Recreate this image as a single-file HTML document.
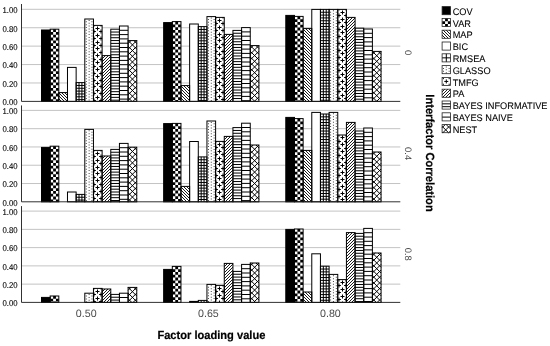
<!DOCTYPE html>
<html><head><meta charset="utf-8"><title>Chart</title>
<style>
html,body{margin:0;padding:0;background:#fff;}
body{width:550px;height:346px;overflow:hidden;}
svg{display:block;font-family:"Liberation Sans",sans-serif;text-rendering:geometricPrecision;}
</style></head><body>
<svg width="550" height="346" viewBox="0 0 550 346">
<rect width="550" height="346" fill="#fff"/>
<g stroke="#b4b4b4" stroke-width="0.8">
<line x1="21.5" y1="82.98" x2="400.3" y2="82.98"/>
<line x1="21.5" y1="64.56" x2="400.3" y2="64.56"/>
<line x1="21.5" y1="46.14" x2="400.3" y2="46.14"/>
<line x1="21.5" y1="27.72" x2="400.3" y2="27.72"/>
<line x1="21.5" y1="9.30" x2="400.3" y2="9.30"/>
<line x1="21.5" y1="183.52" x2="400.3" y2="183.52"/>
<line x1="21.5" y1="165.24" x2="400.3" y2="165.24"/>
<line x1="21.5" y1="146.96" x2="400.3" y2="146.96"/>
<line x1="21.5" y1="128.68" x2="400.3" y2="128.68"/>
<line x1="21.5" y1="110.40" x2="400.3" y2="110.40"/>
<line x1="21.5" y1="284.14" x2="400.3" y2="284.14"/>
<line x1="21.5" y1="265.88" x2="400.3" y2="265.88"/>
<line x1="21.5" y1="247.62" x2="400.3" y2="247.62"/>
<line x1="21.5" y1="229.36" x2="400.3" y2="229.36"/>
<line x1="21.5" y1="211.10" x2="400.3" y2="211.10"/>
</g>
<g fill="#fff">
<rect x="41.50" y="30.00" width="8.66" height="71.40"/>
<rect x="50.16" y="29.20" width="8.66" height="72.20"/>
<rect x="58.82" y="92.60" width="8.66" height="8.80"/>
<rect x="67.48" y="67.40" width="8.66" height="34.00"/>
<rect x="76.14" y="82.60" width="8.66" height="18.80"/>
<rect x="84.80" y="19.00" width="8.66" height="82.40"/>
<rect x="93.46" y="25.40" width="8.66" height="76.00"/>
<rect x="102.12" y="55.60" width="8.66" height="45.80"/>
<rect x="110.78" y="29.20" width="8.66" height="72.20"/>
<rect x="119.44" y="26.00" width="8.66" height="75.40"/>
<rect x="128.10" y="40.60" width="8.66" height="60.80"/>
<rect x="163.65" y="22.60" width="8.66" height="78.80"/>
<rect x="172.31" y="21.60" width="8.66" height="79.80"/>
<rect x="180.97" y="85.60" width="8.66" height="15.80"/>
<rect x="189.63" y="24.00" width="8.66" height="77.40"/>
<rect x="198.29" y="26.60" width="8.66" height="74.80"/>
<rect x="206.95" y="16.60" width="8.66" height="84.80"/>
<rect x="215.61" y="17.40" width="8.66" height="84.00"/>
<rect x="224.27" y="34.40" width="8.66" height="67.00"/>
<rect x="232.93" y="30.40" width="8.66" height="71.00"/>
<rect x="241.59" y="27.60" width="8.66" height="73.80"/>
<rect x="250.25" y="45.60" width="8.66" height="55.80"/>
<rect x="285.80" y="15.40" width="8.66" height="86.00"/>
<rect x="294.46" y="16.40" width="8.66" height="85.00"/>
<rect x="303.12" y="28.60" width="8.66" height="72.80"/>
<rect x="311.78" y="9.40" width="8.66" height="92.00"/>
<rect x="320.44" y="9.40" width="8.66" height="92.00"/>
<rect x="329.10" y="9.40" width="8.66" height="92.00"/>
<rect x="337.76" y="9.40" width="8.66" height="92.00"/>
<rect x="346.42" y="17.40" width="8.66" height="84.00"/>
<rect x="355.08" y="28.20" width="8.66" height="73.20"/>
<rect x="363.74" y="29.00" width="8.66" height="72.40"/>
<rect x="372.40" y="51.40" width="8.66" height="50.00"/>
<rect x="41.50" y="147.40" width="8.66" height="54.40"/>
<rect x="50.16" y="146.20" width="8.66" height="55.60"/>
<rect x="67.48" y="192.00" width="8.66" height="9.80"/>
<rect x="76.14" y="194.40" width="8.66" height="7.40"/>
<rect x="84.80" y="129.40" width="8.66" height="72.40"/>
<rect x="93.46" y="150.40" width="8.66" height="51.40"/>
<rect x="102.12" y="156.00" width="8.66" height="45.80"/>
<rect x="110.78" y="149.40" width="8.66" height="52.40"/>
<rect x="119.44" y="143.40" width="8.66" height="58.40"/>
<rect x="128.10" y="147.20" width="8.66" height="54.60"/>
<rect x="163.65" y="123.60" width="8.66" height="78.20"/>
<rect x="172.31" y="123.40" width="8.66" height="78.40"/>
<rect x="180.97" y="186.40" width="8.66" height="15.40"/>
<rect x="189.63" y="141.50" width="8.66" height="60.30"/>
<rect x="198.29" y="156.90" width="8.66" height="44.90"/>
<rect x="206.95" y="121.00" width="8.66" height="80.80"/>
<rect x="215.61" y="141.40" width="8.66" height="60.40"/>
<rect x="224.27" y="136.40" width="8.66" height="65.40"/>
<rect x="232.93" y="127.60" width="8.66" height="74.20"/>
<rect x="241.59" y="123.20" width="8.66" height="78.60"/>
<rect x="250.25" y="145.00" width="8.66" height="56.80"/>
<rect x="285.80" y="117.40" width="8.66" height="84.40"/>
<rect x="294.46" y="118.60" width="8.66" height="83.20"/>
<rect x="303.12" y="150.40" width="8.66" height="51.40"/>
<rect x="311.78" y="112.40" width="8.66" height="89.40"/>
<rect x="320.44" y="114.00" width="8.66" height="87.80"/>
<rect x="329.10" y="112.40" width="8.66" height="89.40"/>
<rect x="337.76" y="135.00" width="8.66" height="66.80"/>
<rect x="346.42" y="122.40" width="8.66" height="79.40"/>
<rect x="355.08" y="131.00" width="8.66" height="70.80"/>
<rect x="363.74" y="128.00" width="8.66" height="73.80"/>
<rect x="372.40" y="152.00" width="8.66" height="49.80"/>
<rect x="41.50" y="297.40" width="8.66" height="5.00"/>
<rect x="50.16" y="296.00" width="8.66" height="6.40"/>
<rect x="84.80" y="293.20" width="8.66" height="9.20"/>
<rect x="93.46" y="288.40" width="8.66" height="14.00"/>
<rect x="102.12" y="289.00" width="8.66" height="13.40"/>
<rect x="110.78" y="294.40" width="8.66" height="8.00"/>
<rect x="119.44" y="293.20" width="8.66" height="9.20"/>
<rect x="128.10" y="287.40" width="8.66" height="15.00"/>
<rect x="163.65" y="269.40" width="8.66" height="33.00"/>
<rect x="172.31" y="266.40" width="8.66" height="36.00"/>
<rect x="189.63" y="301.40" width="8.66" height="1.00"/>
<rect x="198.29" y="300.40" width="8.66" height="2.00"/>
<rect x="206.95" y="284.40" width="8.66" height="18.00"/>
<rect x="215.61" y="285.40" width="8.66" height="17.00"/>
<rect x="224.27" y="263.40" width="8.66" height="39.00"/>
<rect x="232.93" y="271.40" width="8.66" height="31.00"/>
<rect x="241.59" y="264.40" width="8.66" height="38.00"/>
<rect x="250.25" y="263.00" width="8.66" height="39.40"/>
<rect x="285.80" y="229.40" width="8.66" height="73.00"/>
<rect x="294.46" y="229.00" width="8.66" height="73.40"/>
<rect x="303.12" y="292.00" width="8.66" height="10.40"/>
<rect x="311.78" y="253.80" width="8.66" height="48.60"/>
<rect x="320.44" y="266.20" width="8.66" height="36.20"/>
<rect x="329.10" y="274.40" width="8.66" height="28.00"/>
<rect x="337.76" y="279.60" width="8.66" height="22.80"/>
<rect x="346.42" y="232.60" width="8.66" height="69.80"/>
<rect x="355.08" y="233.40" width="8.66" height="69.00"/>
<rect x="363.74" y="228.40" width="8.66" height="74.00"/>
<rect x="372.40" y="253.00" width="8.66" height="49.40"/>
</g>
<g stroke="#000" stroke-width="1.0" fill="none">
<rect stroke="none" x="41.5" y="30" width="8.66" height="71.4" fill="#000" stroke="none"/>
<path d="M53.14 29.2H55.94V32H53.14zM58.74 29.2H58.82V32H58.74zM50.34 32H53.14V34.8H50.34zM55.94 32H58.74V34.8H55.94zM53.14 34.8H55.94V37.6H53.14zM58.74 34.8H58.82V37.6H58.74zM50.34 37.6H53.14V40.4H50.34zM55.94 37.6H58.74V40.4H55.94zM53.14 40.4H55.94V43.2H53.14zM58.74 40.4H58.82V43.2H58.74zM50.34 43.2H53.14V46H50.34zM55.94 43.2H58.74V46H55.94zM53.14 46H55.94V48.8H53.14zM58.74 46H58.82V48.8H58.74zM50.34 48.8H53.14V51.6H50.34zM55.94 48.8H58.74V51.6H55.94zM53.14 51.6H55.94V54.4H53.14zM58.74 51.6H58.82V54.4H58.74zM50.34 54.4H53.14V57.2H50.34zM55.94 54.4H58.74V57.2H55.94zM53.14 57.2H55.94V60H53.14zM58.74 57.2H58.82V60H58.74zM50.34 60H53.14V62.8H50.34zM55.94 60H58.74V62.8H55.94zM53.14 62.8H55.94V65.6H53.14zM58.74 62.8H58.82V65.6H58.74zM50.34 65.6H53.14V68.4H50.34zM55.94 65.6H58.74V68.4H55.94zM53.14 68.4H55.94V71.2H53.14zM58.74 68.4H58.82V71.2H58.74zM50.34 71.2H53.14V74H50.34zM55.94 71.2H58.74V74H55.94zM53.14 74H55.94V76.8H53.14zM58.74 74H58.82V76.8H58.74zM50.34 76.8H53.14V79.6H50.34zM55.94 76.8H58.74V79.6H55.94zM53.14 79.6H55.94V82.4H53.14zM58.74 79.6H58.82V82.4H58.74zM50.34 82.4H53.14V85.2H50.34zM55.94 82.4H58.74V85.2H55.94zM53.14 85.2H55.94V88H53.14zM58.74 85.2H58.82V88H58.74zM50.34 88H53.14V90.8H50.34zM55.94 88H58.74V90.8H55.94zM53.14 90.8H55.94V93.6H53.14zM58.74 90.8H58.82V93.6H58.74zM50.34 93.6H53.14V96.4H50.34zM55.94 93.6H58.74V96.4H55.94zM53.14 96.4H55.94V99.2H53.14zM58.74 96.4H58.82V99.2H58.74zM50.34 99.2H53.14V101.4H50.34zM55.94 99.2H58.74V101.4H55.94z" fill="#000" stroke="none"/>
<path stroke-width="0.9" d="M58.82 98.82L61.4 101.4M58.82 95.82L64.4 101.4M58.82 92.82L67.4 101.4M61.6 92.6L67.48 98.48M64.6 92.6L67.48 95.48"/>
<path d="M79.03 82.6V101.4M81.91 82.6V101.4M76.14 85.44H84.8M76.14 88.28H84.8M76.14 91.12H84.8M76.14 93.96H84.8M76.14 96.8H84.8M76.14 99.64H84.8"/>
<path d="M88.63 19.92h1v1h-1zM85.79 21.34h1v1h-1zM91.47 21.34h1v1h-1zM88.63 22.76h1v1h-1zM85.79 24.18h1v1h-1zM91.47 24.18h1v1h-1zM88.63 25.6h1v1h-1zM85.79 27.02h1v1h-1zM91.47 27.02h1v1h-1zM88.63 28.44h1v1h-1zM85.79 29.86h1v1h-1zM91.47 29.86h1v1h-1zM88.63 31.28h1v1h-1zM85.79 32.7h1v1h-1zM91.47 32.7h1v1h-1zM88.63 34.12h1v1h-1zM85.79 35.54h1v1h-1zM91.47 35.54h1v1h-1zM88.63 36.96h1v1h-1zM85.79 38.38h1v1h-1zM91.47 38.38h1v1h-1zM88.63 39.8h1v1h-1zM85.79 41.22h1v1h-1zM91.47 41.22h1v1h-1zM88.63 42.64h1v1h-1zM85.79 44.06h1v1h-1zM91.47 44.06h1v1h-1zM88.63 45.48h1v1h-1zM85.79 46.9h1v1h-1zM91.47 46.9h1v1h-1zM88.63 48.32h1v1h-1zM85.79 49.74h1v1h-1zM91.47 49.74h1v1h-1zM88.63 51.16h1v1h-1zM85.79 52.58h1v1h-1zM91.47 52.58h1v1h-1zM88.63 54h1v1h-1zM85.79 55.42h1v1h-1zM91.47 55.42h1v1h-1zM88.63 56.84h1v1h-1zM85.79 58.26h1v1h-1zM91.47 58.26h1v1h-1zM88.63 59.68h1v1h-1zM85.79 61.1h1v1h-1zM91.47 61.1h1v1h-1zM88.63 62.52h1v1h-1zM85.79 63.94h1v1h-1zM91.47 63.94h1v1h-1zM88.63 65.36h1v1h-1zM85.79 66.78h1v1h-1zM91.47 66.78h1v1h-1zM88.63 68.2h1v1h-1zM85.79 69.62h1v1h-1zM91.47 69.62h1v1h-1zM88.63 71.04h1v1h-1zM85.79 72.46h1v1h-1zM91.47 72.46h1v1h-1zM88.63 73.88h1v1h-1zM85.79 75.3h1v1h-1zM91.47 75.3h1v1h-1zM88.63 76.72h1v1h-1zM85.79 78.14h1v1h-1zM91.47 78.14h1v1h-1zM88.63 79.56h1v1h-1zM85.79 80.98h1v1h-1zM91.47 80.98h1v1h-1zM88.63 82.4h1v1h-1zM85.79 83.82h1v1h-1zM91.47 83.82h1v1h-1zM88.63 85.24h1v1h-1zM85.79 86.66h1v1h-1zM91.47 86.66h1v1h-1zM88.63 88.08h1v1h-1zM85.79 89.5h1v1h-1zM91.47 89.5h1v1h-1zM88.63 90.92h1v1h-1zM85.79 92.34h1v1h-1zM91.47 92.34h1v1h-1zM88.63 93.76h1v1h-1zM85.79 95.18h1v1h-1zM91.47 95.18h1v1h-1zM88.63 96.6h1v1h-1zM85.79 98.02h1v1h-1zM91.47 98.02h1v1h-1zM88.63 99.44h1v1h-1z" fill="#444" stroke="none"/>
<path d="M94 25.4L94 26.5M101 25.4L101 26.5M95.5 28.5L99.5 28.5M97.5 26.5L97.5 30.5M93.46 31.5L95.9 31.5M94 29.5L94 33.5M99.1 31.5L102.12 31.5M101 29.5L101 33.5M95.5 35.5L99.5 35.5M97.5 33.5L97.5 37.5M93.46 38.5L95.9 38.5M94 36.5L94 40.5M99.1 38.5L102.12 38.5M101 36.5L101 40.5M95.5 42.5L99.5 42.5M97.5 40.5L97.5 44.5M93.46 45.5L95.9 45.5M94 43.5L94 47.5M99.1 45.5L102.12 45.5M101 43.5L101 47.5M95.5 48.5L99.5 48.5M97.5 46.5L97.5 50.5M93.46 52.5L95.9 52.5M94 50.5L94 54.5M99.1 52.5L102.12 52.5M101 50.5L101 54.5M95.5 55.5L99.5 55.5M97.5 53.5L97.5 57.5M93.46 59.5L95.9 59.5M94 57.5L94 61.5M99.1 59.5L102.12 59.5M101 57.5L101 61.5M95.5 62.5L99.5 62.5M97.5 60.5L97.5 64.5M93.46 66.5L95.9 66.5M94 64.5L94 68.5M99.1 66.5L102.12 66.5M101 64.5L101 68.5M95.5 69.5L99.5 69.5M97.5 67.5L97.5 71.5M93.46 73.5L95.9 73.5M94 71.5L94 75.5M99.1 73.5L102.12 73.5M101 71.5L101 75.5M95.5 76.5L99.5 76.5M97.5 74.5L97.5 78.5M93.46 80.5L95.9 80.5M94 78.5L94 82.5M99.1 80.5L102.12 80.5M101 78.5L101 82.5M95.5 83.5L99.5 83.5M97.5 81.5L97.5 85.5M93.46 86.5L95.9 86.5M94 84.5L94 88.5M99.1 86.5L102.12 86.5M101 84.5L101 88.5M95.5 90.5L99.5 90.5M97.5 88.5L97.5 92.5M93.46 93.5L95.9 93.5M94 91.5L94 95.5M99.1 93.5L102.12 93.5M101 91.5L101 95.5M95.5 97.5L99.5 97.5M97.5 95.5L97.5 99.5M93.46 100.5L95.9 100.5M94 98.5L94 101.4M99.1 100.5L102.12 100.5M101 98.5L101 101.4"/>
<path stroke-width="0.9" d="M102.4 55.6L102.12 55.88M105.4 55.6L102.12 58.88M108.4 55.6L102.12 61.88M110.78 56.22L102.12 64.88M110.78 59.22L102.12 67.88M110.78 62.22L102.12 70.88M110.78 65.22L102.12 73.88M110.78 68.22L102.12 76.88M110.78 71.22L102.12 79.88M110.78 74.22L102.12 82.88M110.78 77.22L102.12 85.88M110.78 80.22L102.12 88.88M110.78 83.22L102.12 91.88M110.78 86.22L102.12 94.88M110.78 89.22L102.12 97.88M110.78 92.22L102.12 100.88M110.78 95.22L104.6 101.4M110.78 98.22L107.6 101.4M110.78 101.22L110.6 101.4"/>
<path d="M110.78 32.04H119.44M110.78 34.88H119.44M110.78 37.72H119.44M110.78 40.56H119.44M110.78 43.4H119.44M110.78 46.24H119.44M110.78 49.08H119.44M110.78 51.92H119.44M110.78 54.76H119.44M110.78 57.6H119.44M110.78 60.44H119.44M110.78 63.28H119.44M110.78 66.12H119.44M110.78 68.96H119.44M110.78 71.8H119.44M110.78 74.64H119.44M110.78 77.48H119.44M110.78 80.32H119.44M110.78 83.16H119.44M110.78 86H119.44M110.78 88.84H119.44M110.78 91.68H119.44M110.78 94.52H119.44M110.78 97.36H119.44M110.78 100.2H119.44"/>
<path d="M119.44 30.3H128.1M119.44 34.6H128.1M119.44 38.9H128.1M119.44 43.2H128.1M119.44 47.5H128.1M119.44 51.8H128.1M119.44 56.1H128.1M119.44 60.4H128.1M119.44 64.7H128.1M119.44 69H128.1M119.44 73.3H128.1M119.44 77.6H128.1M119.44 81.9H128.1M119.44 86.2H128.1M119.44 90.5H128.1M119.44 94.8H128.1M119.44 99.1H128.1"/>
<path d="M133.86 40.6L136.76 43.5M128.1 43.51L131 40.6M128.16 40.6L136.76 49.2M128.1 49.21L136.71 40.6M128.1 46.24L136.76 54.9M128.1 54.91L136.76 46.25M128.1 51.94L136.76 60.6M128.1 60.61L136.76 51.95M128.1 57.64L136.76 66.3M128.1 66.31L136.76 57.65M128.1 63.34L136.76 72M128.1 72.01L136.76 63.35M128.1 69.04L136.76 77.7M128.1 77.71L136.76 69.05M128.1 74.74L136.76 83.4M128.1 83.41L136.76 74.75M128.1 80.44L136.76 89.1M128.1 89.11L136.76 80.45M128.1 86.14L136.76 94.8M128.1 94.81L136.76 86.15M128.1 91.84L136.76 100.5M128.1 100.51L136.76 91.85M128.1 97.54L131.96 101.4M132.91 101.4L136.76 97.55"/>
<rect stroke="none" x="163.65" y="22.6" width="8.66" height="78.8" fill="#000" stroke="none"/>
<path d="M175.29 21.6H178.09V24.4H175.29zM180.89 21.6H180.97V24.4H180.89zM172.49 24.4H175.29V27.2H172.49zM178.09 24.4H180.89V27.2H178.09zM175.29 27.2H178.09V30H175.29zM180.89 27.2H180.97V30H180.89zM172.49 30H175.29V32.8H172.49zM178.09 30H180.89V32.8H178.09zM175.29 32.8H178.09V35.6H175.29zM180.89 32.8H180.97V35.6H180.89zM172.49 35.6H175.29V38.4H172.49zM178.09 35.6H180.89V38.4H178.09zM175.29 38.4H178.09V41.2H175.29zM180.89 38.4H180.97V41.2H180.89zM172.49 41.2H175.29V44H172.49zM178.09 41.2H180.89V44H178.09zM175.29 44H178.09V46.8H175.29zM180.89 44H180.97V46.8H180.89zM172.49 46.8H175.29V49.6H172.49zM178.09 46.8H180.89V49.6H178.09zM175.29 49.6H178.09V52.4H175.29zM180.89 49.6H180.97V52.4H180.89zM172.49 52.4H175.29V55.2H172.49zM178.09 52.4H180.89V55.2H178.09zM175.29 55.2H178.09V58H175.29zM180.89 55.2H180.97V58H180.89zM172.49 58H175.29V60.8H172.49zM178.09 58H180.89V60.8H178.09zM175.29 60.8H178.09V63.6H175.29zM180.89 60.8H180.97V63.6H180.89zM172.49 63.6H175.29V66.4H172.49zM178.09 63.6H180.89V66.4H178.09zM175.29 66.4H178.09V69.2H175.29zM180.89 66.4H180.97V69.2H180.89zM172.49 69.2H175.29V72H172.49zM178.09 69.2H180.89V72H178.09zM175.29 72H178.09V74.8H175.29zM180.89 72H180.97V74.8H180.89zM172.49 74.8H175.29V77.6H172.49zM178.09 74.8H180.89V77.6H178.09zM175.29 77.6H178.09V80.4H175.29zM180.89 77.6H180.97V80.4H180.89zM172.49 80.4H175.29V83.2H172.49zM178.09 80.4H180.89V83.2H178.09zM175.29 83.2H178.09V86H175.29zM180.89 83.2H180.97V86H180.89zM172.49 86H175.29V88.8H172.49zM178.09 86H180.89V88.8H178.09zM175.29 88.8H178.09V91.6H175.29zM180.89 88.8H180.97V91.6H180.89zM172.49 91.6H175.29V94.4H172.49zM178.09 91.6H180.89V94.4H178.09zM175.29 94.4H178.09V97.2H175.29zM180.89 94.4H180.97V97.2H180.89zM172.49 97.2H175.29V100H172.49zM178.09 97.2H180.89V100H178.09zM175.29 100H178.09V101.4H175.29zM180.89 100H180.97V101.4H180.89z" fill="#000" stroke="none"/>
<path stroke-width="0.9" d="M180.97 100.97L181.4 101.4M180.97 97.97L184.4 101.4M180.97 94.97L187.4 101.4M180.97 91.97L189.63 100.63M180.97 88.97L189.63 97.63M180.97 85.97L189.63 94.63M183.6 85.6L189.63 91.63M186.6 85.6L189.63 88.63M189.6 85.6L189.63 85.63"/>
<path d="M201.18 26.6V101.4M204.06 26.6V101.4M198.29 29.44H206.95M198.29 32.28H206.95M198.29 35.12H206.95M198.29 37.96H206.95M198.29 40.8H206.95M198.29 43.64H206.95M198.29 46.48H206.95M198.29 49.32H206.95M198.29 52.16H206.95M198.29 55H206.95M198.29 57.84H206.95M198.29 60.68H206.95M198.29 63.52H206.95M198.29 66.36H206.95M198.29 69.2H206.95M198.29 72.04H206.95M198.29 74.88H206.95M198.29 77.72H206.95M198.29 80.56H206.95M198.29 83.4H206.95M198.29 86.24H206.95M198.29 89.08H206.95M198.29 91.92H206.95M198.29 94.76H206.95M198.29 97.6H206.95M198.29 100.44H206.95"/>
<path d="M210.78 17.52h1v1h-1zM207.94 18.94h1v1h-1zM213.62 18.94h1v1h-1zM210.78 20.36h1v1h-1zM207.94 21.78h1v1h-1zM213.62 21.78h1v1h-1zM210.78 23.2h1v1h-1zM207.94 24.62h1v1h-1zM213.62 24.62h1v1h-1zM210.78 26.04h1v1h-1zM207.94 27.46h1v1h-1zM213.62 27.46h1v1h-1zM210.78 28.88h1v1h-1zM207.94 30.3h1v1h-1zM213.62 30.3h1v1h-1zM210.78 31.72h1v1h-1zM207.94 33.14h1v1h-1zM213.62 33.14h1v1h-1zM210.78 34.56h1v1h-1zM207.94 35.98h1v1h-1zM213.62 35.98h1v1h-1zM210.78 37.4h1v1h-1zM207.94 38.82h1v1h-1zM213.62 38.82h1v1h-1zM210.78 40.24h1v1h-1zM207.94 41.66h1v1h-1zM213.62 41.66h1v1h-1zM210.78 43.08h1v1h-1zM207.94 44.5h1v1h-1zM213.62 44.5h1v1h-1zM210.78 45.92h1v1h-1zM207.94 47.34h1v1h-1zM213.62 47.34h1v1h-1zM210.78 48.76h1v1h-1zM207.94 50.18h1v1h-1zM213.62 50.18h1v1h-1zM210.78 51.6h1v1h-1zM207.94 53.02h1v1h-1zM213.62 53.02h1v1h-1zM210.78 54.44h1v1h-1zM207.94 55.86h1v1h-1zM213.62 55.86h1v1h-1zM210.78 57.28h1v1h-1zM207.94 58.7h1v1h-1zM213.62 58.7h1v1h-1zM210.78 60.12h1v1h-1zM207.94 61.54h1v1h-1zM213.62 61.54h1v1h-1zM210.78 62.96h1v1h-1zM207.94 64.38h1v1h-1zM213.62 64.38h1v1h-1zM210.78 65.8h1v1h-1zM207.94 67.22h1v1h-1zM213.62 67.22h1v1h-1zM210.78 68.64h1v1h-1zM207.94 70.06h1v1h-1zM213.62 70.06h1v1h-1zM210.78 71.48h1v1h-1zM207.94 72.9h1v1h-1zM213.62 72.9h1v1h-1zM210.78 74.32h1v1h-1zM207.94 75.74h1v1h-1zM213.62 75.74h1v1h-1zM210.78 77.16h1v1h-1zM207.94 78.58h1v1h-1zM213.62 78.58h1v1h-1zM210.78 80h1v1h-1zM207.94 81.42h1v1h-1zM213.62 81.42h1v1h-1zM210.78 82.84h1v1h-1zM207.94 84.26h1v1h-1zM213.62 84.26h1v1h-1zM210.78 85.68h1v1h-1zM207.94 87.1h1v1h-1zM213.62 87.1h1v1h-1zM210.78 88.52h1v1h-1zM207.94 89.94h1v1h-1zM213.62 89.94h1v1h-1zM210.78 91.36h1v1h-1zM207.94 92.78h1v1h-1zM213.62 92.78h1v1h-1zM210.78 94.2h1v1h-1zM207.94 95.62h1v1h-1zM213.62 95.62h1v1h-1zM210.78 97.04h1v1h-1zM207.94 98.46h1v1h-1zM213.62 98.46h1v1h-1zM210.78 99.88h1v1h-1z" fill="#444" stroke="none"/>
<path d="M216 17.4L216 18.5M223 17.4L223 18.5M217.5 20.5L221.5 20.5M219.5 18.5L219.5 22.5M215.61 23.5L217.9 23.5M216 21.5L216 25.5M221.1 23.5L224.27 23.5M223 21.5L223 25.5M217.5 27.5L221.5 27.5M219.5 25.5L219.5 29.5M215.61 30.5L217.9 30.5M216 28.5L216 32.5M221.1 30.5L224.27 30.5M223 28.5L223 32.5M217.5 34.5L221.5 34.5M219.5 32.5L219.5 36.5M215.61 37.5L217.9 37.5M216 35.5L216 39.5M221.1 37.5L224.27 37.5M223 35.5L223 39.5M217.5 40.5L221.5 40.5M219.5 38.5L219.5 42.5M215.61 44.5L217.9 44.5M216 42.5L216 46.5M221.1 44.5L224.27 44.5M223 42.5L223 46.5M217.5 47.5L221.5 47.5M219.5 45.5L219.5 49.5M215.61 51.5L217.9 51.5M216 49.5L216 53.5M221.1 51.5L224.27 51.5M223 49.5L223 53.5M217.5 54.5L221.5 54.5M219.5 52.5L219.5 56.5M215.61 58.5L217.9 58.5M216 56.5L216 60.5M221.1 58.5L224.27 58.5M223 56.5L223 60.5M217.5 61.5L221.5 61.5M219.5 59.5L219.5 63.5M215.61 65.5L217.9 65.5M216 63.5L216 67.5M221.1 65.5L224.27 65.5M223 63.5L223 67.5M217.5 68.5L221.5 68.5M219.5 66.5L219.5 70.5M215.61 72.5L217.9 72.5M216 70.5L216 74.5M221.1 72.5L224.27 72.5M223 70.5L223 74.5M217.5 75.5L221.5 75.5M219.5 73.5L219.5 77.5M215.61 78.5L217.9 78.5M216 76.5L216 80.5M221.1 78.5L224.27 78.5M223 76.5L223 80.5M217.5 82.5L221.5 82.5M219.5 80.5L219.5 84.5M215.61 85.5L217.9 85.5M216 83.5L216 87.5M221.1 85.5L224.27 85.5M223 83.5L223 87.5M217.5 89.5L221.5 89.5M219.5 87.5L219.5 91.5M215.61 92.5L217.9 92.5M216 90.5L216 94.5M221.1 92.5L224.27 92.5M223 90.5L223 94.5M217.5 96.5L221.5 96.5M219.5 94.5L219.5 98.5M215.61 99.5L217.9 99.5M216 97.5L216 101.4M221.1 99.5L224.27 99.5M223 97.5L223 101.4"/>
<path stroke-width="0.9" d="M224.6 34.4L224.27 34.73M227.6 34.4L224.27 37.73M230.6 34.4L224.27 40.73M232.93 35.07L224.27 43.73M232.93 38.07L224.27 46.73M232.93 41.07L224.27 49.73M232.93 44.07L224.27 52.73M232.93 47.07L224.27 55.73M232.93 50.07L224.27 58.73M232.93 53.07L224.27 61.73M232.93 56.07L224.27 64.73M232.93 59.07L224.27 67.73M232.93 62.07L224.27 70.73M232.93 65.07L224.27 73.73M232.93 68.07L224.27 76.73M232.93 71.07L224.27 79.73M232.93 74.07L224.27 82.73M232.93 77.07L224.27 85.73M232.93 80.07L224.27 88.73M232.93 83.07L224.27 91.73M232.93 86.07L224.27 94.73M232.93 89.07L224.27 97.73M232.93 92.07L224.27 100.73M232.93 95.07L226.6 101.4M232.93 98.07L229.6 101.4M232.93 101.07L232.6 101.4"/>
<path d="M232.93 33.24H241.59M232.93 36.08H241.59M232.93 38.92H241.59M232.93 41.76H241.59M232.93 44.6H241.59M232.93 47.44H241.59M232.93 50.28H241.59M232.93 53.12H241.59M232.93 55.96H241.59M232.93 58.8H241.59M232.93 61.64H241.59M232.93 64.48H241.59M232.93 67.32H241.59M232.93 70.16H241.59M232.93 73H241.59M232.93 75.84H241.59M232.93 78.68H241.59M232.93 81.52H241.59M232.93 84.36H241.59M232.93 87.2H241.59M232.93 90.04H241.59M232.93 92.88H241.59M232.93 95.72H241.59M232.93 98.56H241.59"/>
<path d="M241.59 31.9H250.25M241.59 36.2H250.25M241.59 40.5H250.25M241.59 44.8H250.25M241.59 49.1H250.25M241.59 53.4H250.25M241.59 57.7H250.25M241.59 62H250.25M241.59 66.3H250.25M241.59 70.6H250.25M241.59 74.9H250.25M241.59 79.2H250.25M241.59 83.5H250.25M241.59 87.8H250.25M241.59 92.1H250.25M241.59 96.4H250.25M241.59 100.7H250.25"/>
<path d="M256.01 45.6L258.91 48.5M250.25 48.51L253.16 45.6M250.31 45.6L258.91 54.2M250.25 54.21L258.86 45.6M250.25 51.24L258.91 59.91M250.25 59.91L258.91 51.25M250.25 56.94L258.91 65.6M250.25 65.61L258.91 56.95M250.25 62.64L258.91 71.3M250.25 71.31L258.91 62.64M250.25 68.34L258.91 77M250.25 77.01L258.91 68.34M250.25 74.04L258.91 82.7M250.25 82.71L258.91 74.05M250.25 79.74L258.91 88.41M250.25 88.41L258.91 79.75M250.25 85.44L258.91 94.11M250.25 94.11L258.91 85.45M250.25 91.14L258.91 99.8M250.25 99.81L258.91 91.14M250.25 96.84L254.81 101.4M254.36 101.4L258.91 96.85"/>
<rect stroke="none" x="285.8" y="15.4" width="8.66" height="86" fill="#000" stroke="none"/>
<path d="M297.44 16.4H300.24V19.2H297.44zM303.04 16.4H303.12V19.2H303.04zM294.64 19.2H297.44V22H294.64zM300.24 19.2H303.04V22H300.24zM297.44 22H300.24V24.8H297.44zM303.04 22H303.12V24.8H303.04zM294.64 24.8H297.44V27.6H294.64zM300.24 24.8H303.04V27.6H300.24zM297.44 27.6H300.24V30.4H297.44zM303.04 27.6H303.12V30.4H303.04zM294.64 30.4H297.44V33.2H294.64zM300.24 30.4H303.04V33.2H300.24zM297.44 33.2H300.24V36H297.44zM303.04 33.2H303.12V36H303.04zM294.64 36H297.44V38.8H294.64zM300.24 36H303.04V38.8H300.24zM297.44 38.8H300.24V41.6H297.44zM303.04 38.8H303.12V41.6H303.04zM294.64 41.6H297.44V44.4H294.64zM300.24 41.6H303.04V44.4H300.24zM297.44 44.4H300.24V47.2H297.44zM303.04 44.4H303.12V47.2H303.04zM294.64 47.2H297.44V50H294.64zM300.24 47.2H303.04V50H300.24zM297.44 50H300.24V52.8H297.44zM303.04 50H303.12V52.8H303.04zM294.64 52.8H297.44V55.6H294.64zM300.24 52.8H303.04V55.6H300.24zM297.44 55.6H300.24V58.4H297.44zM303.04 55.6H303.12V58.4H303.04zM294.64 58.4H297.44V61.2H294.64zM300.24 58.4H303.04V61.2H300.24zM297.44 61.2H300.24V64H297.44zM303.04 61.2H303.12V64H303.04zM294.64 64H297.44V66.8H294.64zM300.24 64H303.04V66.8H300.24zM297.44 66.8H300.24V69.6H297.44zM303.04 66.8H303.12V69.6H303.04zM294.64 69.6H297.44V72.4H294.64zM300.24 69.6H303.04V72.4H300.24zM297.44 72.4H300.24V75.2H297.44zM303.04 72.4H303.12V75.2H303.04zM294.64 75.2H297.44V78H294.64zM300.24 75.2H303.04V78H300.24zM297.44 78H300.24V80.8H297.44zM303.04 78H303.12V80.8H303.04zM294.64 80.8H297.44V83.6H294.64zM300.24 80.8H303.04V83.6H300.24zM297.44 83.6H300.24V86.4H297.44zM303.04 83.6H303.12V86.4H303.04zM294.64 86.4H297.44V89.2H294.64zM300.24 86.4H303.04V89.2H300.24zM297.44 89.2H300.24V92H297.44zM303.04 89.2H303.12V92H303.04zM294.64 92H297.44V94.8H294.64zM300.24 92H303.04V94.8H300.24zM297.44 94.8H300.24V97.6H297.44zM303.04 94.8H303.12V97.6H303.04zM294.64 97.6H297.44V100.4H294.64zM300.24 97.6H303.04V100.4H300.24zM297.44 100.4H300.24V101.4H297.44zM303.04 100.4H303.12V101.4H303.04z" fill="#000" stroke="none"/>
<path stroke-width="0.9" d="M303.12 101.12L303.4 101.4M303.12 98.12L306.4 101.4M303.12 95.12L309.4 101.4M303.12 92.12L311.78 100.78M303.12 89.12L311.78 97.78M303.12 86.12L311.78 94.78M303.12 83.12L311.78 91.78M303.12 80.12L311.78 88.78M303.12 77.12L311.78 85.78M303.12 74.12L311.78 82.78M303.12 71.12L311.78 79.78M303.12 68.12L311.78 76.78M303.12 65.12L311.78 73.78M303.12 62.12L311.78 70.78M303.12 59.12L311.78 67.78M303.12 56.12L311.78 64.78M303.12 53.12L311.78 61.78M303.12 50.12L311.78 58.78M303.12 47.12L311.78 55.78M303.12 44.12L311.78 52.78M303.12 41.12L311.78 49.78M303.12 38.12L311.78 46.78M303.12 35.12L311.78 43.78M303.12 32.12L311.78 40.78M303.12 29.12L311.78 37.78M305.6 28.6L311.78 34.78M308.6 28.6L311.78 31.78M311.6 28.6L311.78 28.78"/>
<path d="M323.33 9.4V101.4M326.21 9.4V101.4M320.44 12.24H329.1M320.44 15.08H329.1M320.44 17.92H329.1M320.44 20.76H329.1M320.44 23.6H329.1M320.44 26.44H329.1M320.44 29.28H329.1M320.44 32.12H329.1M320.44 34.96H329.1M320.44 37.8H329.1M320.44 40.64H329.1M320.44 43.48H329.1M320.44 46.32H329.1M320.44 49.16H329.1M320.44 52H329.1M320.44 54.84H329.1M320.44 57.68H329.1M320.44 60.52H329.1M320.44 63.36H329.1M320.44 66.2H329.1M320.44 69.04H329.1M320.44 71.88H329.1M320.44 74.72H329.1M320.44 77.56H329.1M320.44 80.4H329.1M320.44 83.24H329.1M320.44 86.08H329.1M320.44 88.92H329.1M320.44 91.76H329.1M320.44 94.6H329.1M320.44 97.44H329.1M320.44 100.28H329.1"/>
<path d="M332.93 10.32h1v1h-1zM330.09 11.74h1v1h-1zM335.77 11.74h1v1h-1zM332.93 13.16h1v1h-1zM330.09 14.58h1v1h-1zM335.77 14.58h1v1h-1zM332.93 16h1v1h-1zM330.09 17.42h1v1h-1zM335.77 17.42h1v1h-1zM332.93 18.84h1v1h-1zM330.09 20.26h1v1h-1zM335.77 20.26h1v1h-1zM332.93 21.68h1v1h-1zM330.09 23.1h1v1h-1zM335.77 23.1h1v1h-1zM332.93 24.52h1v1h-1zM330.09 25.94h1v1h-1zM335.77 25.94h1v1h-1zM332.93 27.36h1v1h-1zM330.09 28.78h1v1h-1zM335.77 28.78h1v1h-1zM332.93 30.2h1v1h-1zM330.09 31.62h1v1h-1zM335.77 31.62h1v1h-1zM332.93 33.04h1v1h-1zM330.09 34.46h1v1h-1zM335.77 34.46h1v1h-1zM332.93 35.88h1v1h-1zM330.09 37.3h1v1h-1zM335.77 37.3h1v1h-1zM332.93 38.72h1v1h-1zM330.09 40.14h1v1h-1zM335.77 40.14h1v1h-1zM332.93 41.56h1v1h-1zM330.09 42.98h1v1h-1zM335.77 42.98h1v1h-1zM332.93 44.4h1v1h-1zM330.09 45.82h1v1h-1zM335.77 45.82h1v1h-1zM332.93 47.24h1v1h-1zM330.09 48.66h1v1h-1zM335.77 48.66h1v1h-1zM332.93 50.08h1v1h-1zM330.09 51.5h1v1h-1zM335.77 51.5h1v1h-1zM332.93 52.92h1v1h-1zM330.09 54.34h1v1h-1zM335.77 54.34h1v1h-1zM332.93 55.76h1v1h-1zM330.09 57.18h1v1h-1zM335.77 57.18h1v1h-1zM332.93 58.6h1v1h-1zM330.09 60.02h1v1h-1zM335.77 60.02h1v1h-1zM332.93 61.44h1v1h-1zM330.09 62.86h1v1h-1zM335.77 62.86h1v1h-1zM332.93 64.28h1v1h-1zM330.09 65.7h1v1h-1zM335.77 65.7h1v1h-1zM332.93 67.12h1v1h-1zM330.09 68.54h1v1h-1zM335.77 68.54h1v1h-1zM332.93 69.96h1v1h-1zM330.09 71.38h1v1h-1zM335.77 71.38h1v1h-1zM332.93 72.8h1v1h-1zM330.09 74.22h1v1h-1zM335.77 74.22h1v1h-1zM332.93 75.64h1v1h-1zM330.09 77.06h1v1h-1zM335.77 77.06h1v1h-1zM332.93 78.48h1v1h-1zM330.09 79.9h1v1h-1zM335.77 79.9h1v1h-1zM332.93 81.32h1v1h-1zM330.09 82.74h1v1h-1zM335.77 82.74h1v1h-1zM332.93 84.16h1v1h-1zM330.09 85.58h1v1h-1zM335.77 85.58h1v1h-1zM332.93 87h1v1h-1zM330.09 88.42h1v1h-1zM335.77 88.42h1v1h-1zM332.93 89.84h1v1h-1zM330.09 91.26h1v1h-1zM335.77 91.26h1v1h-1zM332.93 92.68h1v1h-1zM330.09 94.1h1v1h-1zM335.77 94.1h1v1h-1zM332.93 95.52h1v1h-1zM330.09 96.94h1v1h-1zM335.77 96.94h1v1h-1zM332.93 98.36h1v1h-1zM330.09 99.78h1v1h-1zM335.77 99.78h1v1h-1z" fill="#444" stroke="none"/>
<path d="M339 9.4L339 10.5M346 9.4L346 10.5M340.5 12.5L344.5 12.5M342.5 10.5L342.5 14.5M337.76 15.5L340.9 15.5M339 13.5L339 17.5M344.1 15.5L346.42 15.5M346 13.5L346 17.5M340.5 19.5L344.5 19.5M342.5 17.5L342.5 21.5M337.76 22.5L340.9 22.5M339 20.5L339 24.5M344.1 22.5L346.42 22.5M346 20.5L346 24.5M340.5 26.5L344.5 26.5M342.5 24.5L342.5 28.5M337.76 29.5L340.9 29.5M339 27.5L339 31.5M344.1 29.5L346.42 29.5M346 27.5L346 31.5M340.5 32.5L344.5 32.5M342.5 30.5L342.5 34.5M337.76 36.5L340.9 36.5M339 34.5L339 38.5M344.1 36.5L346.42 36.5M346 34.5L346 38.5M340.5 39.5L344.5 39.5M342.5 37.5L342.5 41.5M337.76 43.5L340.9 43.5M339 41.5L339 45.5M344.1 43.5L346.42 43.5M346 41.5L346 45.5M340.5 46.5L344.5 46.5M342.5 44.5L342.5 48.5M337.76 50.5L340.9 50.5M339 48.5L339 52.5M344.1 50.5L346.42 50.5M346 48.5L346 52.5M340.5 53.5L344.5 53.5M342.5 51.5L342.5 55.5M337.76 57.5L340.9 57.5M339 55.5L339 59.5M344.1 57.5L346.42 57.5M346 55.5L346 59.5M340.5 60.5L344.5 60.5M342.5 58.5L342.5 62.5M337.76 64.5L340.9 64.5M339 62.5L339 66.5M344.1 64.5L346.42 64.5M346 62.5L346 66.5M340.5 67.5L344.5 67.5M342.5 65.5L342.5 69.5M337.76 70.5L340.9 70.5M339 68.5L339 72.5M344.1 70.5L346.42 70.5M346 68.5L346 72.5M340.5 74.5L344.5 74.5M342.5 72.5L342.5 76.5M337.76 77.5L340.9 77.5M339 75.5L339 79.5M344.1 77.5L346.42 77.5M346 75.5L346 79.5M340.5 81.5L344.5 81.5M342.5 79.5L342.5 83.5M337.76 84.5L340.9 84.5M339 82.5L339 86.5M344.1 84.5L346.42 84.5M346 82.5L346 86.5M340.5 88.5L344.5 88.5M342.5 86.5L342.5 90.5M337.76 91.5L340.9 91.5M339 89.5L339 93.5M344.1 91.5L346.42 91.5M346 89.5L346 93.5M340.5 95.5L344.5 95.5M342.5 93.5L342.5 97.5M337.76 98.5L340.9 98.5M339 96.5L339 100.5M344.1 98.5L346.42 98.5M346 96.5L346 100.5M342.5 99.5L342.5 101.4"/>
<path stroke-width="0.9" d="M346.6 17.4L346.42 17.58M349.6 17.4L346.42 20.58M352.6 17.4L346.42 23.58M355.08 17.92L346.42 26.58M355.08 20.92L346.42 29.58M355.08 23.92L346.42 32.58M355.08 26.92L346.42 35.58M355.08 29.92L346.42 38.58M355.08 32.92L346.42 41.58M355.08 35.92L346.42 44.58M355.08 38.92L346.42 47.58M355.08 41.92L346.42 50.58M355.08 44.92L346.42 53.58M355.08 47.92L346.42 56.58M355.08 50.92L346.42 59.58M355.08 53.92L346.42 62.58M355.08 56.92L346.42 65.58M355.08 59.92L346.42 68.58M355.08 62.92L346.42 71.58M355.08 65.92L346.42 74.58M355.08 68.92L346.42 77.58M355.08 71.92L346.42 80.58M355.08 74.92L346.42 83.58M355.08 77.92L346.42 86.58M355.08 80.92L346.42 89.58M355.08 83.92L346.42 92.58M355.08 86.92L346.42 95.58M355.08 89.92L346.42 98.58M355.08 92.92L346.6 101.4M355.08 95.92L349.6 101.4M355.08 98.92L352.6 101.4"/>
<path d="M355.08 31.04H363.74M355.08 33.88H363.74M355.08 36.72H363.74M355.08 39.56H363.74M355.08 42.4H363.74M355.08 45.24H363.74M355.08 48.08H363.74M355.08 50.92H363.74M355.08 53.76H363.74M355.08 56.6H363.74M355.08 59.44H363.74M355.08 62.28H363.74M355.08 65.12H363.74M355.08 67.96H363.74M355.08 70.8H363.74M355.08 73.64H363.74M355.08 76.48H363.74M355.08 79.32H363.74M355.08 82.16H363.74M355.08 85H363.74M355.08 87.84H363.74M355.08 90.68H363.74M355.08 93.52H363.74M355.08 96.36H363.74M355.08 99.2H363.74"/>
<path d="M363.74 33.3H372.4M363.74 37.6H372.4M363.74 41.9H372.4M363.74 46.2H372.4M363.74 50.5H372.4M363.74 54.8H372.4M363.74 59.1H372.4M363.74 63.4H372.4M363.74 67.7H372.4M363.74 72H372.4M363.74 76.3H372.4M363.74 80.6H372.4M363.74 84.9H372.4M363.74 89.2H372.4M363.74 93.5H372.4M363.74 97.8H372.4"/>
<path d="M378.15 51.4L381.06 54.31M372.4 54.3L375.3 51.4M372.45 51.4L381.06 60.01M372.4 60L381 51.4M372.4 57.05L381.06 65.71M372.4 65.7L381.06 57.04M372.4 62.75L381.06 71.41M372.4 71.4L381.06 62.74M372.4 68.45L381.06 77.11M372.4 77.1L381.06 68.44M372.4 74.15L381.06 82.81M372.4 82.8L381.06 74.14M372.4 79.85L381.06 88.51M372.4 88.5L381.06 79.84M372.4 85.55L381.06 94.21M372.4 94.2L381.06 85.54M372.4 91.25L381.06 99.91M372.4 99.9L381.06 91.24M372.4 96.95L376.85 101.4M376.6 101.4L381.06 96.94"/>
<rect stroke="none" x="41.5" y="147.4" width="8.66" height="54.4" fill="#000" stroke="none"/>
<path d="M53.14 146.2H55.94V149H53.14zM58.74 146.2H58.82V149H58.74zM50.34 149H53.14V151.8H50.34zM55.94 149H58.74V151.8H55.94zM53.14 151.8H55.94V154.6H53.14zM58.74 151.8H58.82V154.6H58.74zM50.34 154.6H53.14V157.4H50.34zM55.94 154.6H58.74V157.4H55.94zM53.14 157.4H55.94V160.2H53.14zM58.74 157.4H58.82V160.2H58.74zM50.34 160.2H53.14V163H50.34zM55.94 160.2H58.74V163H55.94zM53.14 163H55.94V165.8H53.14zM58.74 163H58.82V165.8H58.74zM50.34 165.8H53.14V168.6H50.34zM55.94 165.8H58.74V168.6H55.94zM53.14 168.6H55.94V171.4H53.14zM58.74 168.6H58.82V171.4H58.74zM50.34 171.4H53.14V174.2H50.34zM55.94 171.4H58.74V174.2H55.94zM53.14 174.2H55.94V177H53.14zM58.74 174.2H58.82V177H58.74zM50.34 177H53.14V179.8H50.34zM55.94 177H58.74V179.8H55.94zM53.14 179.8H55.94V182.6H53.14zM58.74 179.8H58.82V182.6H58.74zM50.34 182.6H53.14V185.4H50.34zM55.94 182.6H58.74V185.4H55.94zM53.14 185.4H55.94V188.2H53.14zM58.74 185.4H58.82V188.2H58.74zM50.34 188.2H53.14V191H50.34zM55.94 188.2H58.74V191H55.94zM53.14 191H55.94V193.8H53.14zM58.74 191H58.82V193.8H58.74zM50.34 193.8H53.14V196.6H50.34zM55.94 193.8H58.74V196.6H55.94zM53.14 196.6H55.94V199.4H53.14zM58.74 196.6H58.82V199.4H58.74zM50.34 199.4H53.14V201.8H50.34zM55.94 199.4H58.74V201.8H55.94z" fill="#000" stroke="none"/>
<path d="M79.03 194.4V201.8M81.91 194.4V201.8M76.14 197.24H84.8M76.14 200.08H84.8"/>
<path d="M88.63 130.32h1v1h-1zM85.79 131.74h1v1h-1zM91.47 131.74h1v1h-1zM88.63 133.16h1v1h-1zM85.79 134.58h1v1h-1zM91.47 134.58h1v1h-1zM88.63 136h1v1h-1zM85.79 137.42h1v1h-1zM91.47 137.42h1v1h-1zM88.63 138.84h1v1h-1zM85.79 140.26h1v1h-1zM91.47 140.26h1v1h-1zM88.63 141.68h1v1h-1zM85.79 143.1h1v1h-1zM91.47 143.1h1v1h-1zM88.63 144.52h1v1h-1zM85.79 145.94h1v1h-1zM91.47 145.94h1v1h-1zM88.63 147.36h1v1h-1zM85.79 148.78h1v1h-1zM91.47 148.78h1v1h-1zM88.63 150.2h1v1h-1zM85.79 151.62h1v1h-1zM91.47 151.62h1v1h-1zM88.63 153.04h1v1h-1zM85.79 154.46h1v1h-1zM91.47 154.46h1v1h-1zM88.63 155.88h1v1h-1zM85.79 157.3h1v1h-1zM91.47 157.3h1v1h-1zM88.63 158.72h1v1h-1zM85.79 160.14h1v1h-1zM91.47 160.14h1v1h-1zM88.63 161.56h1v1h-1zM85.79 162.98h1v1h-1zM91.47 162.98h1v1h-1zM88.63 164.4h1v1h-1zM85.79 165.82h1v1h-1zM91.47 165.82h1v1h-1zM88.63 167.24h1v1h-1zM85.79 168.66h1v1h-1zM91.47 168.66h1v1h-1zM88.63 170.08h1v1h-1zM85.79 171.5h1v1h-1zM91.47 171.5h1v1h-1zM88.63 172.92h1v1h-1zM85.79 174.34h1v1h-1zM91.47 174.34h1v1h-1zM88.63 175.76h1v1h-1zM85.79 177.18h1v1h-1zM91.47 177.18h1v1h-1zM88.63 178.6h1v1h-1zM85.79 180.02h1v1h-1zM91.47 180.02h1v1h-1zM88.63 181.44h1v1h-1zM85.79 182.86h1v1h-1zM91.47 182.86h1v1h-1zM88.63 184.28h1v1h-1zM85.79 185.7h1v1h-1zM91.47 185.7h1v1h-1zM88.63 187.12h1v1h-1zM85.79 188.54h1v1h-1zM91.47 188.54h1v1h-1zM88.63 189.96h1v1h-1zM85.79 191.38h1v1h-1zM91.47 191.38h1v1h-1zM88.63 192.8h1v1h-1zM85.79 194.22h1v1h-1zM91.47 194.22h1v1h-1zM88.63 195.64h1v1h-1zM85.79 197.06h1v1h-1zM91.47 197.06h1v1h-1zM88.63 198.48h1v1h-1zM85.79 199.9h1v1h-1zM91.47 199.9h1v1h-1z" fill="#444" stroke="none"/>
<path d="M94 150.4L94 151.5M101 150.4L101 151.5M95.5 153.5L99.5 153.5M97.5 151.5L97.5 155.5M93.46 156.5L95.9 156.5M94 154.5L94 158.5M99.1 156.5L102.12 156.5M101 154.5L101 158.5M95.5 160.5L99.5 160.5M97.5 158.5L97.5 162.5M93.46 163.5L95.9 163.5M94 161.5L94 165.5M99.1 163.5L102.12 163.5M101 161.5L101 165.5M95.5 167.5L99.5 167.5M97.5 165.5L97.5 169.5M93.46 170.5L95.9 170.5M94 168.5L94 172.5M99.1 170.5L102.12 170.5M101 168.5L101 172.5M95.5 173.5L99.5 173.5M97.5 171.5L97.5 175.5M93.46 177.5L95.9 177.5M94 175.5L94 179.5M99.1 177.5L102.12 177.5M101 175.5L101 179.5M95.5 180.5L99.5 180.5M97.5 178.5L97.5 182.5M93.46 184.5L95.9 184.5M94 182.5L94 186.5M99.1 184.5L102.12 184.5M101 182.5L101 186.5M95.5 187.5L99.5 187.5M97.5 185.5L97.5 189.5M93.46 191.5L95.9 191.5M94 189.5L94 193.5M99.1 191.5L102.12 191.5M101 189.5L101 193.5M95.5 194.5L99.5 194.5M97.5 192.5L97.5 196.5M93.46 198.5L95.9 198.5M94 196.5L94 200.5M99.1 198.5L102.12 198.5M101 196.5L101 200.5M95.5 201.5L99.5 201.5M97.5 199.5L97.5 201.8"/>
<path stroke-width="0.9" d="M105 156L102.12 158.88M108 156L102.12 161.88M110.78 156.22L102.12 164.88M110.78 159.22L102.12 167.88M110.78 162.22L102.12 170.88M110.78 165.22L102.12 173.88M110.78 168.22L102.12 176.88M110.78 171.22L102.12 179.88M110.78 174.22L102.12 182.88M110.78 177.22L102.12 185.88M110.78 180.22L102.12 188.88M110.78 183.22L102.12 191.88M110.78 186.22L102.12 194.88M110.78 189.22L102.12 197.88M110.78 192.22L102.12 200.88M110.78 195.22L104.2 201.8M110.78 198.22L107.2 201.8M110.78 201.22L110.2 201.8"/>
<path d="M110.78 152.24H119.44M110.78 155.08H119.44M110.78 157.92H119.44M110.78 160.76H119.44M110.78 163.6H119.44M110.78 166.44H119.44M110.78 169.28H119.44M110.78 172.12H119.44M110.78 174.96H119.44M110.78 177.8H119.44M110.78 180.64H119.44M110.78 183.48H119.44M110.78 186.32H119.44M110.78 189.16H119.44M110.78 192H119.44M110.78 194.84H119.44M110.78 197.68H119.44M110.78 200.52H119.44"/>
<path d="M119.44 147.7H128.1M119.44 152H128.1M119.44 156.3H128.1M119.44 160.6H128.1M119.44 164.9H128.1M119.44 169.2H128.1M119.44 173.5H128.1M119.44 177.8H128.1M119.44 182.1H128.1M119.44 186.4H128.1M119.44 190.7H128.1M119.44 195H128.1M119.44 199.3H128.1"/>
<path d="M133.85 147.2L136.76 150.1M128.1 150.11L131.01 147.2M128.16 147.2L136.76 155.8M128.1 155.81L136.71 147.2M128.1 152.84L136.76 161.5M128.1 161.5L136.76 152.84M128.1 158.54L136.76 167.2M128.1 167.21L136.76 158.55M128.1 164.24L136.76 172.9M128.1 172.91L136.76 164.25M128.1 169.94L136.76 178.6M128.1 178.61L136.76 169.95M128.1 175.64L136.76 184.3M128.1 184.31L136.76 175.65M128.1 181.34L136.76 190M128.1 190.01L136.76 181.35M128.1 187.04L136.76 195.7M128.1 195.71L136.76 187.05M128.1 192.74L136.76 201.4M128.1 201.41L136.76 192.75M128.1 198.44L131.46 201.8M133.41 201.8L136.76 198.45"/>
<rect stroke="none" x="163.65" y="123.6" width="8.66" height="78.2" fill="#000" stroke="none"/>
<path d="M175.29 123.4H178.09V126.2H175.29zM180.89 123.4H180.97V126.2H180.89zM172.49 126.2H175.29V129H172.49zM178.09 126.2H180.89V129H178.09zM175.29 129H178.09V131.8H175.29zM180.89 129H180.97V131.8H180.89zM172.49 131.8H175.29V134.6H172.49zM178.09 131.8H180.89V134.6H178.09zM175.29 134.6H178.09V137.4H175.29zM180.89 134.6H180.97V137.4H180.89zM172.49 137.4H175.29V140.2H172.49zM178.09 137.4H180.89V140.2H178.09zM175.29 140.2H178.09V143H175.29zM180.89 140.2H180.97V143H180.89zM172.49 143H175.29V145.8H172.49zM178.09 143H180.89V145.8H178.09zM175.29 145.8H178.09V148.6H175.29zM180.89 145.8H180.97V148.6H180.89zM172.49 148.6H175.29V151.4H172.49zM178.09 148.6H180.89V151.4H178.09zM175.29 151.4H178.09V154.2H175.29zM180.89 151.4H180.97V154.2H180.89zM172.49 154.2H175.29V157H172.49zM178.09 154.2H180.89V157H178.09zM175.29 157H178.09V159.8H175.29zM180.89 157H180.97V159.8H180.89zM172.49 159.8H175.29V162.6H172.49zM178.09 159.8H180.89V162.6H178.09zM175.29 162.6H178.09V165.4H175.29zM180.89 162.6H180.97V165.4H180.89zM172.49 165.4H175.29V168.2H172.49zM178.09 165.4H180.89V168.2H178.09zM175.29 168.2H178.09V171H175.29zM180.89 168.2H180.97V171H180.89zM172.49 171H175.29V173.8H172.49zM178.09 171H180.89V173.8H178.09zM175.29 173.8H178.09V176.6H175.29zM180.89 173.8H180.97V176.6H180.89zM172.49 176.6H175.29V179.4H172.49zM178.09 176.6H180.89V179.4H178.09zM175.29 179.4H178.09V182.2H175.29zM180.89 179.4H180.97V182.2H180.89zM172.49 182.2H175.29V185H172.49zM178.09 182.2H180.89V185H178.09zM175.29 185H178.09V187.8H175.29zM180.89 185H180.97V187.8H180.89zM172.49 187.8H175.29V190.6H172.49zM178.09 187.8H180.89V190.6H178.09zM175.29 190.6H178.09V193.4H175.29zM180.89 190.6H180.97V193.4H180.89zM172.49 193.4H175.29V196.2H172.49zM178.09 193.4H180.89V196.2H178.09zM175.29 196.2H178.09V199H175.29zM180.89 196.2H180.97V199H180.89zM172.49 199H175.29V201.8H172.49zM178.09 199H180.89V201.8H178.09z" fill="#000" stroke="none"/>
<path stroke-width="0.9" d="M180.97 198.97L183.8 201.8M180.97 195.97L186.8 201.8M180.97 192.97L189.63 201.63M180.97 189.97L189.63 198.63M180.97 186.97L189.63 195.63M183.4 186.4L189.63 192.63M186.4 186.4L189.63 189.63M189.4 186.4L189.63 186.63"/>
<path d="M201.18 156.9V201.8M204.06 156.9V201.8M198.29 159.74H206.95M198.29 162.58H206.95M198.29 165.42H206.95M198.29 168.26H206.95M198.29 171.1H206.95M198.29 173.94H206.95M198.29 176.78H206.95M198.29 179.62H206.95M198.29 182.46H206.95M198.29 185.3H206.95M198.29 188.14H206.95M198.29 190.98H206.95M198.29 193.82H206.95M198.29 196.66H206.95M198.29 199.5H206.95"/>
<path d="M210.78 121.92h1v1h-1zM207.94 123.34h1v1h-1zM213.62 123.34h1v1h-1zM210.78 124.76h1v1h-1zM207.94 126.18h1v1h-1zM213.62 126.18h1v1h-1zM210.78 127.6h1v1h-1zM207.94 129.02h1v1h-1zM213.62 129.02h1v1h-1zM210.78 130.44h1v1h-1zM207.94 131.86h1v1h-1zM213.62 131.86h1v1h-1zM210.78 133.28h1v1h-1zM207.94 134.7h1v1h-1zM213.62 134.7h1v1h-1zM210.78 136.12h1v1h-1zM207.94 137.54h1v1h-1zM213.62 137.54h1v1h-1zM210.78 138.96h1v1h-1zM207.94 140.38h1v1h-1zM213.62 140.38h1v1h-1zM210.78 141.8h1v1h-1zM207.94 143.22h1v1h-1zM213.62 143.22h1v1h-1zM210.78 144.64h1v1h-1zM207.94 146.06h1v1h-1zM213.62 146.06h1v1h-1zM210.78 147.48h1v1h-1zM207.94 148.9h1v1h-1zM213.62 148.9h1v1h-1zM210.78 150.32h1v1h-1zM207.94 151.74h1v1h-1zM213.62 151.74h1v1h-1zM210.78 153.16h1v1h-1zM207.94 154.58h1v1h-1zM213.62 154.58h1v1h-1zM210.78 156h1v1h-1zM207.94 157.42h1v1h-1zM213.62 157.42h1v1h-1zM210.78 158.84h1v1h-1zM207.94 160.26h1v1h-1zM213.62 160.26h1v1h-1zM210.78 161.68h1v1h-1zM207.94 163.1h1v1h-1zM213.62 163.1h1v1h-1zM210.78 164.52h1v1h-1zM207.94 165.94h1v1h-1zM213.62 165.94h1v1h-1zM210.78 167.36h1v1h-1zM207.94 168.78h1v1h-1zM213.62 168.78h1v1h-1zM210.78 170.2h1v1h-1zM207.94 171.62h1v1h-1zM213.62 171.62h1v1h-1zM210.78 173.04h1v1h-1zM207.94 174.46h1v1h-1zM213.62 174.46h1v1h-1zM210.78 175.88h1v1h-1zM207.94 177.3h1v1h-1zM213.62 177.3h1v1h-1zM210.78 178.72h1v1h-1zM207.94 180.14h1v1h-1zM213.62 180.14h1v1h-1zM210.78 181.56h1v1h-1zM207.94 182.98h1v1h-1zM213.62 182.98h1v1h-1zM210.78 184.4h1v1h-1zM207.94 185.82h1v1h-1zM213.62 185.82h1v1h-1zM210.78 187.24h1v1h-1zM207.94 188.66h1v1h-1zM213.62 188.66h1v1h-1zM210.78 190.08h1v1h-1zM207.94 191.5h1v1h-1zM213.62 191.5h1v1h-1zM210.78 192.92h1v1h-1zM207.94 194.34h1v1h-1zM213.62 194.34h1v1h-1zM210.78 195.76h1v1h-1zM207.94 197.18h1v1h-1zM213.62 197.18h1v1h-1zM210.78 198.6h1v1h-1zM207.94 200.02h1v1h-1zM213.62 200.02h1v1h-1z" fill="#444" stroke="none"/>
<path d="M216 141.4L216 142.5M223 141.4L223 142.5M217.5 144.5L221.5 144.5M219.5 142.5L219.5 146.5M215.61 147.5L217.9 147.5M216 145.5L216 149.5M221.1 147.5L224.27 147.5M223 145.5L223 149.5M217.5 151.5L221.5 151.5M219.5 149.5L219.5 153.5M215.61 154.5L217.9 154.5M216 152.5L216 156.5M221.1 154.5L224.27 154.5M223 152.5L223 156.5M217.5 158.5L221.5 158.5M219.5 156.5L219.5 160.5M215.61 161.5L217.9 161.5M216 159.5L216 163.5M221.1 161.5L224.27 161.5M223 159.5L223 163.5M217.5 164.5L221.5 164.5M219.5 162.5L219.5 166.5M215.61 168.5L217.9 168.5M216 166.5L216 170.5M221.1 168.5L224.27 168.5M223 166.5L223 170.5M217.5 171.5L221.5 171.5M219.5 169.5L219.5 173.5M215.61 175.5L217.9 175.5M216 173.5L216 177.5M221.1 175.5L224.27 175.5M223 173.5L223 177.5M217.5 178.5L221.5 178.5M219.5 176.5L219.5 180.5M215.61 182.5L217.9 182.5M216 180.5L216 184.5M221.1 182.5L224.27 182.5M223 180.5L223 184.5M217.5 185.5L221.5 185.5M219.5 183.5L219.5 187.5M215.61 189.5L217.9 189.5M216 187.5L216 191.5M221.1 189.5L224.27 189.5M223 187.5L223 191.5M217.5 192.5L221.5 192.5M219.5 190.5L219.5 194.5M215.61 196.5L217.9 196.5M216 194.5L216 198.5M221.1 196.5L224.27 196.5M223 194.5L223 198.5M217.5 199.5L221.5 199.5M219.5 197.5L219.5 201.5M216 200.5L216 201.8M223 200.5L223 201.8"/>
<path stroke-width="0.9" d="M224.6 136.4L224.27 136.73M227.6 136.4L224.27 139.73M230.6 136.4L224.27 142.73M232.93 137.07L224.27 145.73M232.93 140.07L224.27 148.73M232.93 143.07L224.27 151.73M232.93 146.07L224.27 154.73M232.93 149.07L224.27 157.73M232.93 152.07L224.27 160.73M232.93 155.07L224.27 163.73M232.93 158.07L224.27 166.73M232.93 161.07L224.27 169.73M232.93 164.07L224.27 172.73M232.93 167.07L224.27 175.73M232.93 170.07L224.27 178.73M232.93 173.07L224.27 181.73M232.93 176.07L224.27 184.73M232.93 179.07L224.27 187.73M232.93 182.07L224.27 190.73M232.93 185.07L224.27 193.73M232.93 188.07L224.27 196.73M232.93 191.07L224.27 199.73M232.93 194.07L225.2 201.8M232.93 197.07L228.2 201.8M232.93 200.07L231.2 201.8"/>
<path d="M232.93 130.44H241.59M232.93 133.28H241.59M232.93 136.12H241.59M232.93 138.96H241.59M232.93 141.8H241.59M232.93 144.64H241.59M232.93 147.48H241.59M232.93 150.32H241.59M232.93 153.16H241.59M232.93 156H241.59M232.93 158.84H241.59M232.93 161.68H241.59M232.93 164.52H241.59M232.93 167.36H241.59M232.93 170.2H241.59M232.93 173.04H241.59M232.93 175.88H241.59M232.93 178.72H241.59M232.93 181.56H241.59M232.93 184.4H241.59M232.93 187.24H241.59M232.93 190.08H241.59M232.93 192.92H241.59M232.93 195.76H241.59M232.93 198.6H241.59"/>
<path d="M241.59 127.5H250.25M241.59 131.8H250.25M241.59 136.1H250.25M241.59 140.4H250.25M241.59 144.7H250.25M241.59 149H250.25M241.59 153.3H250.25M241.59 157.6H250.25M241.59 161.9H250.25M241.59 166.2H250.25M241.59 170.5H250.25M241.59 174.8H250.25M241.59 179.1H250.25M241.59 183.4H250.25M241.59 187.7H250.25M241.59 192H250.25M241.59 196.3H250.25M241.59 200.6H250.25"/>
<path d="M256 145L258.91 147.91M250.25 147.91L253.16 145M250.31 145L258.91 153.6M250.25 153.61L258.86 145M250.25 150.64L258.91 159.3M250.25 159.31L258.91 150.65M250.25 156.34L258.91 165M250.25 165.01L258.91 156.35M250.25 162.04L258.91 170.7M250.25 170.71L258.91 162.05M250.25 167.75L258.91 176.41M250.25 176.41L258.91 167.75M250.25 173.44L258.91 182.1M250.25 182.11L258.91 173.45M250.25 179.15L258.91 187.81M250.25 187.81L258.91 179.15M250.25 184.84L258.91 193.5M250.25 193.51L258.91 184.85M250.25 190.54L258.91 199.2M250.25 199.21L258.91 190.55M250.25 196.25L255.81 201.8M253.36 201.8L258.91 196.25"/>
<rect stroke="none" x="285.8" y="117.4" width="8.66" height="84.4" fill="#000" stroke="none"/>
<path d="M297.44 118.6H300.24V121.4H297.44zM303.04 118.6H303.12V121.4H303.04zM294.64 121.4H297.44V124.2H294.64zM300.24 121.4H303.04V124.2H300.24zM297.44 124.2H300.24V127H297.44zM303.04 124.2H303.12V127H303.04zM294.64 127H297.44V129.8H294.64zM300.24 127H303.04V129.8H300.24zM297.44 129.8H300.24V132.6H297.44zM303.04 129.8H303.12V132.6H303.04zM294.64 132.6H297.44V135.4H294.64zM300.24 132.6H303.04V135.4H300.24zM297.44 135.4H300.24V138.2H297.44zM303.04 135.4H303.12V138.2H303.04zM294.64 138.2H297.44V141H294.64zM300.24 138.2H303.04V141H300.24zM297.44 141H300.24V143.8H297.44zM303.04 141H303.12V143.8H303.04zM294.64 143.8H297.44V146.6H294.64zM300.24 143.8H303.04V146.6H300.24zM297.44 146.6H300.24V149.4H297.44zM303.04 146.6H303.12V149.4H303.04zM294.64 149.4H297.44V152.2H294.64zM300.24 149.4H303.04V152.2H300.24zM297.44 152.2H300.24V155H297.44zM303.04 152.2H303.12V155H303.04zM294.64 155H297.44V157.8H294.64zM300.24 155H303.04V157.8H300.24zM297.44 157.8H300.24V160.6H297.44zM303.04 157.8H303.12V160.6H303.04zM294.64 160.6H297.44V163.4H294.64zM300.24 160.6H303.04V163.4H300.24zM297.44 163.4H300.24V166.2H297.44zM303.04 163.4H303.12V166.2H303.04zM294.64 166.2H297.44V169H294.64zM300.24 166.2H303.04V169H300.24zM297.44 169H300.24V171.8H297.44zM303.04 169H303.12V171.8H303.04zM294.64 171.8H297.44V174.6H294.64zM300.24 171.8H303.04V174.6H300.24zM297.44 174.6H300.24V177.4H297.44zM303.04 174.6H303.12V177.4H303.04zM294.64 177.4H297.44V180.2H294.64zM300.24 177.4H303.04V180.2H300.24zM297.44 180.2H300.24V183H297.44zM303.04 180.2H303.12V183H303.04zM294.64 183H297.44V185.8H294.64zM300.24 183H303.04V185.8H300.24zM297.44 185.8H300.24V188.6H297.44zM303.04 185.8H303.12V188.6H303.04zM294.64 188.6H297.44V191.4H294.64zM300.24 188.6H303.04V191.4H300.24zM297.44 191.4H300.24V194.2H297.44zM303.04 191.4H303.12V194.2H303.04zM294.64 194.2H297.44V197H294.64zM300.24 194.2H303.04V197H300.24zM297.44 197H300.24V199.8H297.44zM303.04 197H303.12V199.8H303.04zM294.64 199.8H297.44V201.8H294.64zM300.24 199.8H303.04V201.8H300.24z" fill="#000" stroke="none"/>
<path stroke-width="0.9" d="M303.12 199.12L305.8 201.8M303.12 196.12L308.8 201.8M303.12 193.12L311.78 201.78M303.12 190.12L311.78 198.78M303.12 187.12L311.78 195.78M303.12 184.12L311.78 192.78M303.12 181.12L311.78 189.78M303.12 178.12L311.78 186.78M303.12 175.12L311.78 183.78M303.12 172.12L311.78 180.78M303.12 169.12L311.78 177.78M303.12 166.12L311.78 174.78M303.12 163.12L311.78 171.78M303.12 160.12L311.78 168.78M303.12 157.12L311.78 165.78M303.12 154.12L311.78 162.78M303.12 151.12L311.78 159.78M305.4 150.4L311.78 156.78M308.4 150.4L311.78 153.78M311.4 150.4L311.78 150.78"/>
<path d="M323.33 114V201.8M326.21 114V201.8M320.44 116.84H329.1M320.44 119.68H329.1M320.44 122.52H329.1M320.44 125.36H329.1M320.44 128.2H329.1M320.44 131.04H329.1M320.44 133.88H329.1M320.44 136.72H329.1M320.44 139.56H329.1M320.44 142.4H329.1M320.44 145.24H329.1M320.44 148.08H329.1M320.44 150.92H329.1M320.44 153.76H329.1M320.44 156.6H329.1M320.44 159.44H329.1M320.44 162.28H329.1M320.44 165.12H329.1M320.44 167.96H329.1M320.44 170.8H329.1M320.44 173.64H329.1M320.44 176.48H329.1M320.44 179.32H329.1M320.44 182.16H329.1M320.44 185H329.1M320.44 187.84H329.1M320.44 190.68H329.1M320.44 193.52H329.1M320.44 196.36H329.1M320.44 199.2H329.1"/>
<path d="M332.93 113.32h1v1h-1zM330.09 114.74h1v1h-1zM335.77 114.74h1v1h-1zM332.93 116.16h1v1h-1zM330.09 117.58h1v1h-1zM335.77 117.58h1v1h-1zM332.93 119h1v1h-1zM330.09 120.42h1v1h-1zM335.77 120.42h1v1h-1zM332.93 121.84h1v1h-1zM330.09 123.26h1v1h-1zM335.77 123.26h1v1h-1zM332.93 124.68h1v1h-1zM330.09 126.1h1v1h-1zM335.77 126.1h1v1h-1zM332.93 127.52h1v1h-1zM330.09 128.94h1v1h-1zM335.77 128.94h1v1h-1zM332.93 130.36h1v1h-1zM330.09 131.78h1v1h-1zM335.77 131.78h1v1h-1zM332.93 133.2h1v1h-1zM330.09 134.62h1v1h-1zM335.77 134.62h1v1h-1zM332.93 136.04h1v1h-1zM330.09 137.46h1v1h-1zM335.77 137.46h1v1h-1zM332.93 138.88h1v1h-1zM330.09 140.3h1v1h-1zM335.77 140.3h1v1h-1zM332.93 141.72h1v1h-1zM330.09 143.14h1v1h-1zM335.77 143.14h1v1h-1zM332.93 144.56h1v1h-1zM330.09 145.98h1v1h-1zM335.77 145.98h1v1h-1zM332.93 147.4h1v1h-1zM330.09 148.82h1v1h-1zM335.77 148.82h1v1h-1zM332.93 150.24h1v1h-1zM330.09 151.66h1v1h-1zM335.77 151.66h1v1h-1zM332.93 153.08h1v1h-1zM330.09 154.5h1v1h-1zM335.77 154.5h1v1h-1zM332.93 155.92h1v1h-1zM330.09 157.34h1v1h-1zM335.77 157.34h1v1h-1zM332.93 158.76h1v1h-1zM330.09 160.18h1v1h-1zM335.77 160.18h1v1h-1zM332.93 161.6h1v1h-1zM330.09 163.02h1v1h-1zM335.77 163.02h1v1h-1zM332.93 164.44h1v1h-1zM330.09 165.86h1v1h-1zM335.77 165.86h1v1h-1zM332.93 167.28h1v1h-1zM330.09 168.7h1v1h-1zM335.77 168.7h1v1h-1zM332.93 170.12h1v1h-1zM330.09 171.54h1v1h-1zM335.77 171.54h1v1h-1zM332.93 172.96h1v1h-1zM330.09 174.38h1v1h-1zM335.77 174.38h1v1h-1zM332.93 175.8h1v1h-1zM330.09 177.22h1v1h-1zM335.77 177.22h1v1h-1zM332.93 178.64h1v1h-1zM330.09 180.06h1v1h-1zM335.77 180.06h1v1h-1zM332.93 181.48h1v1h-1zM330.09 182.9h1v1h-1zM335.77 182.9h1v1h-1zM332.93 184.32h1v1h-1zM330.09 185.74h1v1h-1zM335.77 185.74h1v1h-1zM332.93 187.16h1v1h-1zM330.09 188.58h1v1h-1zM335.77 188.58h1v1h-1zM332.93 190h1v1h-1zM330.09 191.42h1v1h-1zM335.77 191.42h1v1h-1zM332.93 192.84h1v1h-1zM330.09 194.26h1v1h-1zM335.77 194.26h1v1h-1zM332.93 195.68h1v1h-1zM330.09 197.1h1v1h-1zM335.77 197.1h1v1h-1zM332.93 198.52h1v1h-1zM330.09 199.94h1v1h-1zM335.77 199.94h1v1h-1z" fill="#444" stroke="none"/>
<path d="M339 135L339 136.5M346 135L346 136.5M340.5 137.5L344.5 137.5M342.5 135.5L342.5 139.5M337.76 141.5L340.9 141.5M339 139.5L339 143.5M344.1 141.5L346.42 141.5M346 139.5L346 143.5M340.5 144.5L344.5 144.5M342.5 142.5L342.5 146.5M337.76 148.5L340.9 148.5M339 146.5L339 150.5M344.1 148.5L346.42 148.5M346 146.5L346 150.5M340.5 151.5L344.5 151.5M342.5 149.5L342.5 153.5M337.76 155.5L340.9 155.5M339 153.5L339 157.5M344.1 155.5L346.42 155.5M346 153.5L346 157.5M340.5 158.5L344.5 158.5M342.5 156.5L342.5 160.5M337.76 162.5L340.9 162.5M339 160.5L339 164.5M344.1 162.5L346.42 162.5M346 160.5L346 164.5M340.5 165.5L344.5 165.5M342.5 163.5L342.5 167.5M337.76 168.5L340.9 168.5M339 166.5L339 170.5M344.1 168.5L346.42 168.5M346 166.5L346 170.5M340.5 172.5L344.5 172.5M342.5 170.5L342.5 174.5M337.76 175.5L340.9 175.5M339 173.5L339 177.5M344.1 175.5L346.42 175.5M346 173.5L346 177.5M340.5 179.5L344.5 179.5M342.5 177.5L342.5 181.5M337.76 182.5L340.9 182.5M339 180.5L339 184.5M344.1 182.5L346.42 182.5M346 180.5L346 184.5M340.5 186.5L344.5 186.5M342.5 184.5L342.5 188.5M337.76 189.5L340.9 189.5M339 187.5L339 191.5M344.1 189.5L346.42 189.5M346 187.5L346 191.5M340.5 193.5L344.5 193.5M342.5 191.5L342.5 195.5M337.76 196.5L340.9 196.5M339 194.5L339 198.5M344.1 196.5L346.42 196.5M346 194.5L346 198.5M340.5 199.5L344.5 199.5M342.5 197.5L342.5 201.5M339 201.5L339 201.8M346 201.5L346 201.8"/>
<path stroke-width="0.9" d="M346.6 122.4L346.42 122.58M349.6 122.4L346.42 125.58M352.6 122.4L346.42 128.58M355.08 122.92L346.42 131.58M355.08 125.92L346.42 134.58M355.08 128.92L346.42 137.58M355.08 131.92L346.42 140.58M355.08 134.92L346.42 143.58M355.08 137.92L346.42 146.58M355.08 140.92L346.42 149.58M355.08 143.92L346.42 152.58M355.08 146.92L346.42 155.58M355.08 149.92L346.42 158.58M355.08 152.92L346.42 161.58M355.08 155.92L346.42 164.58M355.08 158.92L346.42 167.58M355.08 161.92L346.42 170.58M355.08 164.92L346.42 173.58M355.08 167.92L346.42 176.58M355.08 170.92L346.42 179.58M355.08 173.92L346.42 182.58M355.08 176.92L346.42 185.58M355.08 179.92L346.42 188.58M355.08 182.92L346.42 191.58M355.08 185.92L346.42 194.58M355.08 188.92L346.42 197.58M355.08 191.92L346.42 200.58M355.08 194.92L348.2 201.8M355.08 197.92L351.2 201.8M355.08 200.92L354.2 201.8"/>
<path d="M355.08 133.84H363.74M355.08 136.68H363.74M355.08 139.52H363.74M355.08 142.36H363.74M355.08 145.2H363.74M355.08 148.04H363.74M355.08 150.88H363.74M355.08 153.72H363.74M355.08 156.56H363.74M355.08 159.4H363.74M355.08 162.24H363.74M355.08 165.08H363.74M355.08 167.92H363.74M355.08 170.76H363.74M355.08 173.6H363.74M355.08 176.44H363.74M355.08 179.28H363.74M355.08 182.12H363.74M355.08 184.96H363.74M355.08 187.8H363.74M355.08 190.64H363.74M355.08 193.48H363.74M355.08 196.32H363.74M355.08 199.16H363.74"/>
<path d="M363.74 132.3H372.4M363.74 136.6H372.4M363.74 140.9H372.4M363.74 145.2H372.4M363.74 149.5H372.4M363.74 153.8H372.4M363.74 158.1H372.4M363.74 162.4H372.4M363.74 166.7H372.4M363.74 171H372.4M363.74 175.3H372.4M363.74 179.6H372.4M363.74 183.9H372.4M363.74 188.2H372.4M363.74 192.5H372.4M363.74 196.8H372.4M363.74 201.1H372.4"/>
<path d="M378.15 152L381.06 154.91M372.4 154.91L375.3 152M372.45 152L381.06 160.61M372.4 160.6L381 152M372.4 157.65L381.06 166.31M372.4 166.3L381.06 157.64M372.4 163.35L381.06 172.01M372.4 172L381.06 163.34M372.4 169.05L381.06 177.71M372.4 177.7L381.06 169.04M372.4 174.75L381.06 183.41M372.4 183.41L381.06 174.74M372.4 180.45L381.06 189.11M372.4 189.1L381.06 180.44M372.4 186.15L381.06 194.81M372.4 194.81L381.06 186.14M372.4 191.85L381.06 200.51M372.4 200.5L381.06 191.84M372.4 197.55L376.65 201.8M376.8 201.8L381.06 197.54"/>
<rect stroke="none" x="41.5" y="297.4" width="8.66" height="5" fill="#000" stroke="none"/>
<path d="M53.14 296H55.94V298.8H53.14zM58.74 296H58.82V298.8H58.74zM50.34 298.8H53.14V301.6H50.34zM55.94 298.8H58.74V301.6H55.94zM53.14 301.6H55.94V302.4H53.14zM58.74 301.6H58.82V302.4H58.74z" fill="#000" stroke="none"/>
<path d="M88.63 294.12h1v1h-1zM85.79 295.54h1v1h-1zM91.47 295.54h1v1h-1zM88.63 296.96h1v1h-1zM85.79 298.38h1v1h-1zM91.47 298.38h1v1h-1zM88.63 299.8h1v1h-1zM85.79 301.22h1v1h-1zM91.47 301.22h1v1h-1z" fill="#444" stroke="none"/>
<path d="M94 288.4L94 289.5M101 288.4L101 289.5M95.5 291.5L99.5 291.5M97.5 289.5L97.5 293.5M93.46 294.5L95.9 294.5M94 292.5L94 296.5M99.1 294.5L102.12 294.5M101 292.5L101 296.5M95.5 298.5L99.5 298.5M97.5 296.5L97.5 300.5M93.46 301.5L95.9 301.5M94 299.5L94 302.4M99.1 301.5L102.12 301.5M101 299.5L101 302.4"/>
<path stroke-width="0.9" d="M105 289L102.12 291.88M108 289L102.12 294.88M110.78 289.22L102.12 297.88M110.78 292.22L102.12 300.88M110.78 295.22L103.6 302.4M110.78 298.22L106.6 302.4M110.78 301.22L109.6 302.4"/>
<path d="M110.78 297.24H119.44M110.78 300.08H119.44"/>
<path d="M119.44 297.5H128.1"/>
<path d="M133.86 287.4L136.76 290.3M128.1 290.3L131 287.4M128.16 287.4L136.76 296M128.1 296L136.7 287.4M128.1 293.04L136.76 301.7M128.1 301.7L136.76 293.04M128.1 298.74L131.76 302.4M133.1 302.4L136.76 298.74"/>
<rect stroke="none" x="163.65" y="269.4" width="8.66" height="33" fill="#000" stroke="none"/>
<path d="M175.29 266.4H178.09V269.2H175.29zM180.89 266.4H180.97V269.2H180.89zM172.49 269.2H175.29V272H172.49zM178.09 269.2H180.89V272H178.09zM175.29 272H178.09V274.8H175.29zM180.89 272H180.97V274.8H180.89zM172.49 274.8H175.29V277.6H172.49zM178.09 274.8H180.89V277.6H178.09zM175.29 277.6H178.09V280.4H175.29zM180.89 277.6H180.97V280.4H180.89zM172.49 280.4H175.29V283.2H172.49zM178.09 280.4H180.89V283.2H178.09zM175.29 283.2H178.09V286H175.29zM180.89 283.2H180.97V286H180.89zM172.49 286H175.29V288.8H172.49zM178.09 286H180.89V288.8H178.09zM175.29 288.8H178.09V291.6H175.29zM180.89 288.8H180.97V291.6H180.89zM172.49 291.6H175.29V294.4H172.49zM178.09 291.6H180.89V294.4H178.09zM175.29 294.4H178.09V297.2H175.29zM180.89 294.4H180.97V297.2H180.89zM172.49 297.2H175.29V300H172.49zM178.09 297.2H180.89V300H178.09zM175.29 300H178.09V302.4H175.29zM180.89 300H180.97V302.4H180.89z" fill="#000" stroke="none"/>
<path d="M201.18 300.4V302.4M204.06 300.4V302.4"/>
<path d="M210.78 285.32h1v1h-1zM207.94 286.74h1v1h-1zM213.62 286.74h1v1h-1zM210.78 288.16h1v1h-1zM207.94 289.58h1v1h-1zM213.62 289.58h1v1h-1zM210.78 291h1v1h-1zM207.94 292.42h1v1h-1zM213.62 292.42h1v1h-1zM210.78 293.84h1v1h-1zM207.94 295.26h1v1h-1zM213.62 295.26h1v1h-1zM210.78 296.68h1v1h-1zM207.94 298.1h1v1h-1zM213.62 298.1h1v1h-1zM210.78 299.52h1v1h-1zM207.94 300.94h1v1h-1zM213.62 300.94h1v1h-1z" fill="#444" stroke="none"/>
<path d="M216 285.4L216 286.5M223 285.4L223 286.5M217.5 288.5L221.5 288.5M219.5 286.5L219.5 290.5M215.61 291.5L217.9 291.5M216 289.5L216 293.5M221.1 291.5L224.27 291.5M223 289.5L223 293.5M217.5 295.5L221.5 295.5M219.5 293.5L219.5 297.5M215.61 298.5L217.9 298.5M216 296.5L216 300.5M221.1 298.5L224.27 298.5M223 296.5L223 300.5M219.5 300.5L219.5 302.4"/>
<path stroke-width="0.9" d="M224.6 263.4L224.27 263.73M227.6 263.4L224.27 266.73M230.6 263.4L224.27 269.73M232.93 264.07L224.27 272.73M232.93 267.07L224.27 275.73M232.93 270.07L224.27 278.73M232.93 273.07L224.27 281.73M232.93 276.07L224.27 284.73M232.93 279.07L224.27 287.73M232.93 282.07L224.27 290.73M232.93 285.07L224.27 293.73M232.93 288.07L224.27 296.73M232.93 291.07L224.27 299.73M232.93 294.07L224.6 302.4M232.93 297.07L227.6 302.4M232.93 300.07L230.6 302.4"/>
<path d="M232.93 274.24H241.59M232.93 277.08H241.59M232.93 279.92H241.59M232.93 282.76H241.59M232.93 285.6H241.59M232.93 288.44H241.59M232.93 291.28H241.59M232.93 294.12H241.59M232.93 296.96H241.59M232.93 299.8H241.59"/>
<path d="M241.59 268.7H250.25M241.59 273H250.25M241.59 277.3H250.25M241.59 281.6H250.25M241.59 285.9H250.25M241.59 290.2H250.25M241.59 294.5H250.25M241.59 298.8H250.25"/>
<path d="M256.01 263L258.91 265.9M250.25 265.91L253.16 263M250.31 263L258.91 271.6M250.25 271.61L258.86 263M250.25 268.64L258.91 277.3M250.25 277.31L258.91 268.64M250.25 274.34L258.91 283M250.25 283L258.91 274.34M250.25 280.04L258.91 288.7M250.25 288.71L258.91 280.05M250.25 285.74L258.91 294.4M250.25 294.41L258.91 285.75M250.25 291.44L258.91 300.1M250.25 300.11L258.91 291.44M250.25 297.14L255.51 302.4M253.66 302.4L258.91 297.14"/>
<rect stroke="none" x="285.8" y="229.4" width="8.66" height="73" fill="#000" stroke="none"/>
<path d="M297.44 229H300.24V231.8H297.44zM303.04 229H303.12V231.8H303.04zM294.64 231.8H297.44V234.6H294.64zM300.24 231.8H303.04V234.6H300.24zM297.44 234.6H300.24V237.4H297.44zM303.04 234.6H303.12V237.4H303.04zM294.64 237.4H297.44V240.2H294.64zM300.24 237.4H303.04V240.2H300.24zM297.44 240.2H300.24V243H297.44zM303.04 240.2H303.12V243H303.04zM294.64 243H297.44V245.8H294.64zM300.24 243H303.04V245.8H300.24zM297.44 245.8H300.24V248.6H297.44zM303.04 245.8H303.12V248.6H303.04zM294.64 248.6H297.44V251.4H294.64zM300.24 248.6H303.04V251.4H300.24zM297.44 251.4H300.24V254.2H297.44zM303.04 251.4H303.12V254.2H303.04zM294.64 254.2H297.44V257H294.64zM300.24 254.2H303.04V257H300.24zM297.44 257H300.24V259.8H297.44zM303.04 257H303.12V259.8H303.04zM294.64 259.8H297.44V262.6H294.64zM300.24 259.8H303.04V262.6H300.24zM297.44 262.6H300.24V265.4H297.44zM303.04 262.6H303.12V265.4H303.04zM294.64 265.4H297.44V268.2H294.64zM300.24 265.4H303.04V268.2H300.24zM297.44 268.2H300.24V271H297.44zM303.04 268.2H303.12V271H303.04zM294.64 271H297.44V273.8H294.64zM300.24 271H303.04V273.8H300.24zM297.44 273.8H300.24V276.6H297.44zM303.04 273.8H303.12V276.6H303.04zM294.64 276.6H297.44V279.4H294.64zM300.24 276.6H303.04V279.4H300.24zM297.44 279.4H300.24V282.2H297.44zM303.04 279.4H303.12V282.2H303.04zM294.64 282.2H297.44V285H294.64zM300.24 282.2H303.04V285H300.24zM297.44 285H300.24V287.8H297.44zM303.04 285H303.12V287.8H303.04zM294.64 287.8H297.44V290.6H294.64zM300.24 287.8H303.04V290.6H300.24zM297.44 290.6H300.24V293.4H297.44zM303.04 290.6H303.12V293.4H303.04zM294.64 293.4H297.44V296.2H294.64zM300.24 293.4H303.04V296.2H300.24zM297.44 296.2H300.24V299H297.44zM303.04 296.2H303.12V299H303.04zM294.64 299H297.44V301.8H294.64zM300.24 299H303.04V301.8H300.24zM297.44 301.8H300.24V302.4H297.44zM303.04 301.8H303.12V302.4H303.04z" fill="#000" stroke="none"/>
<path stroke-width="0.9" d="M303.12 302.12L303.4 302.4M303.12 299.12L306.4 302.4M303.12 296.12L309.4 302.4M303.12 293.12L311.78 301.78M305 292L311.78 298.78M308 292L311.78 295.78M311 292L311.78 292.78"/>
<path d="M323.33 266.2V302.4M326.21 266.2V302.4M320.44 269.04H329.1M320.44 271.88H329.1M320.44 274.72H329.1M320.44 277.56H329.1M320.44 280.4H329.1M320.44 283.24H329.1M320.44 286.08H329.1M320.44 288.92H329.1M320.44 291.76H329.1M320.44 294.6H329.1M320.44 297.44H329.1M320.44 300.28H329.1"/>
<path d="M332.93 275.32h1v1h-1zM330.09 276.74h1v1h-1zM335.77 276.74h1v1h-1zM332.93 278.16h1v1h-1zM330.09 279.58h1v1h-1zM335.77 279.58h1v1h-1zM332.93 281h1v1h-1zM330.09 282.42h1v1h-1zM335.77 282.42h1v1h-1zM332.93 283.84h1v1h-1zM330.09 285.26h1v1h-1zM335.77 285.26h1v1h-1zM332.93 286.68h1v1h-1zM330.09 288.1h1v1h-1zM335.77 288.1h1v1h-1zM332.93 289.52h1v1h-1zM330.09 290.94h1v1h-1zM335.77 290.94h1v1h-1zM332.93 292.36h1v1h-1zM330.09 293.78h1v1h-1zM335.77 293.78h1v1h-1zM332.93 295.2h1v1h-1zM330.09 296.62h1v1h-1zM335.77 296.62h1v1h-1zM332.93 298.04h1v1h-1zM330.09 299.46h1v1h-1zM335.77 299.46h1v1h-1zM332.93 300.88h1v1h-1z" fill="#444" stroke="none"/>
<path d="M339 279.6L339 281.5M346 279.6L346 281.5M340.5 282.5L344.5 282.5M342.5 280.5L342.5 284.5M337.76 285.5L340.9 285.5M339 283.5L339 287.5M344.1 285.5L346.42 285.5M346 283.5L346 287.5M340.5 289.5L344.5 289.5M342.5 287.5L342.5 291.5M337.76 292.5L340.9 292.5M339 290.5L339 294.5M344.1 292.5L346.42 292.5M346 290.5L346 294.5M340.5 296.5L344.5 296.5M342.5 294.5L342.5 298.5M337.76 299.5L340.9 299.5M339 297.5L339 301.5M344.1 299.5L346.42 299.5M346 297.5L346 301.5M342.5 301.5L342.5 302.4"/>
<path stroke-width="0.9" d="M349.4 232.6L346.42 235.58M352.4 232.6L346.42 238.58M355.08 232.92L346.42 241.58M355.08 235.92L346.42 244.58M355.08 238.92L346.42 247.58M355.08 241.92L346.42 250.58M355.08 244.92L346.42 253.58M355.08 247.92L346.42 256.58M355.08 250.92L346.42 259.58M355.08 253.92L346.42 262.58M355.08 256.92L346.42 265.58M355.08 259.92L346.42 268.58M355.08 262.92L346.42 271.58M355.08 265.92L346.42 274.58M355.08 268.92L346.42 277.58M355.08 271.92L346.42 280.58M355.08 274.92L346.42 283.58M355.08 277.92L346.42 286.58M355.08 280.92L346.42 289.58M355.08 283.92L346.42 292.58M355.08 286.92L346.42 295.58M355.08 289.92L346.42 298.58M355.08 292.92L346.42 301.58M355.08 295.92L348.6 302.4M355.08 298.92L351.6 302.4M355.08 301.92L354.6 302.4"/>
<path d="M355.08 236.24H363.74M355.08 239.08H363.74M355.08 241.92H363.74M355.08 244.76H363.74M355.08 247.6H363.74M355.08 250.44H363.74M355.08 253.28H363.74M355.08 256.12H363.74M355.08 258.96H363.74M355.08 261.8H363.74M355.08 264.64H363.74M355.08 267.48H363.74M355.08 270.32H363.74M355.08 273.16H363.74M355.08 276H363.74M355.08 278.84H363.74M355.08 281.68H363.74M355.08 284.52H363.74M355.08 287.36H363.74M355.08 290.2H363.74M355.08 293.04H363.74M355.08 295.88H363.74M355.08 298.72H363.74M355.08 301.56H363.74"/>
<path d="M363.74 232.7H372.4M363.74 237H372.4M363.74 241.3H372.4M363.74 245.6H372.4M363.74 249.9H372.4M363.74 254.2H372.4M363.74 258.5H372.4M363.74 262.8H372.4M363.74 267.1H372.4M363.74 271.4H372.4M363.74 275.7H372.4M363.74 280H372.4M363.74 284.3H372.4M363.74 288.6H372.4M363.74 292.9H372.4M363.74 297.2H372.4M363.74 301.5H372.4"/>
<path d="M378.15 253L381.06 255.91M372.4 255.9L375.3 253M372.45 253L381.06 261.61M372.4 261.6L381 253M372.4 258.64L381.06 267.31M372.4 267.3L381.06 258.64M372.4 264.34L381.06 273M372.4 273L381.06 264.34M372.4 270.05L381.06 278.71M372.4 278.7L381.06 270.04M372.4 275.75L381.06 284.41M372.4 284.4L381.06 275.74M372.4 281.44L381.06 290.11M372.4 290.1L381.06 281.44M372.4 287.14L381.06 295.81M372.4 295.8L381.06 287.14M372.4 292.84L381.06 301.5M372.4 301.5L381.06 292.84M372.4 298.55L376.25 302.4M377.2 302.4L381.06 298.54"/>
</g>
<g stroke="#000" stroke-width="1" fill="none">
<rect x="41.50" y="30.00" width="8.66" height="71.40"/>
<rect x="50.16" y="29.20" width="8.66" height="72.20"/>
<rect x="58.82" y="92.60" width="8.66" height="8.80"/>
<rect x="67.48" y="67.40" width="8.66" height="34.00"/>
<rect x="76.14" y="82.60" width="8.66" height="18.80"/>
<rect x="84.80" y="19.00" width="8.66" height="82.40"/>
<rect x="93.46" y="25.40" width="8.66" height="76.00"/>
<rect x="102.12" y="55.60" width="8.66" height="45.80"/>
<rect x="110.78" y="29.20" width="8.66" height="72.20"/>
<rect x="119.44" y="26.00" width="8.66" height="75.40"/>
<rect x="128.10" y="40.60" width="8.66" height="60.80"/>
<rect x="163.65" y="22.60" width="8.66" height="78.80"/>
<rect x="172.31" y="21.60" width="8.66" height="79.80"/>
<rect x="180.97" y="85.60" width="8.66" height="15.80"/>
<rect x="189.63" y="24.00" width="8.66" height="77.40"/>
<rect x="198.29" y="26.60" width="8.66" height="74.80"/>
<rect x="206.95" y="16.60" width="8.66" height="84.80"/>
<rect x="215.61" y="17.40" width="8.66" height="84.00"/>
<rect x="224.27" y="34.40" width="8.66" height="67.00"/>
<rect x="232.93" y="30.40" width="8.66" height="71.00"/>
<rect x="241.59" y="27.60" width="8.66" height="73.80"/>
<rect x="250.25" y="45.60" width="8.66" height="55.80"/>
<rect x="285.80" y="15.40" width="8.66" height="86.00"/>
<rect x="294.46" y="16.40" width="8.66" height="85.00"/>
<rect x="303.12" y="28.60" width="8.66" height="72.80"/>
<rect x="311.78" y="9.40" width="8.66" height="92.00"/>
<rect x="320.44" y="9.40" width="8.66" height="92.00"/>
<rect x="329.10" y="9.40" width="8.66" height="92.00"/>
<rect x="337.76" y="9.40" width="8.66" height="92.00"/>
<rect x="346.42" y="17.40" width="8.66" height="84.00"/>
<rect x="355.08" y="28.20" width="8.66" height="73.20"/>
<rect x="363.74" y="29.00" width="8.66" height="72.40"/>
<rect x="372.40" y="51.40" width="8.66" height="50.00"/>
<rect x="41.50" y="147.40" width="8.66" height="54.40"/>
<rect x="50.16" y="146.20" width="8.66" height="55.60"/>
<rect x="67.48" y="192.00" width="8.66" height="9.80"/>
<rect x="76.14" y="194.40" width="8.66" height="7.40"/>
<rect x="84.80" y="129.40" width="8.66" height="72.40"/>
<rect x="93.46" y="150.40" width="8.66" height="51.40"/>
<rect x="102.12" y="156.00" width="8.66" height="45.80"/>
<rect x="110.78" y="149.40" width="8.66" height="52.40"/>
<rect x="119.44" y="143.40" width="8.66" height="58.40"/>
<rect x="128.10" y="147.20" width="8.66" height="54.60"/>
<rect x="163.65" y="123.60" width="8.66" height="78.20"/>
<rect x="172.31" y="123.40" width="8.66" height="78.40"/>
<rect x="180.97" y="186.40" width="8.66" height="15.40"/>
<rect x="189.63" y="141.50" width="8.66" height="60.30"/>
<rect x="198.29" y="156.90" width="8.66" height="44.90"/>
<rect x="206.95" y="121.00" width="8.66" height="80.80"/>
<rect x="215.61" y="141.40" width="8.66" height="60.40"/>
<rect x="224.27" y="136.40" width="8.66" height="65.40"/>
<rect x="232.93" y="127.60" width="8.66" height="74.20"/>
<rect x="241.59" y="123.20" width="8.66" height="78.60"/>
<rect x="250.25" y="145.00" width="8.66" height="56.80"/>
<rect x="285.80" y="117.40" width="8.66" height="84.40"/>
<rect x="294.46" y="118.60" width="8.66" height="83.20"/>
<rect x="303.12" y="150.40" width="8.66" height="51.40"/>
<rect x="311.78" y="112.40" width="8.66" height="89.40"/>
<rect x="320.44" y="114.00" width="8.66" height="87.80"/>
<rect x="329.10" y="112.40" width="8.66" height="89.40"/>
<rect x="337.76" y="135.00" width="8.66" height="66.80"/>
<rect x="346.42" y="122.40" width="8.66" height="79.40"/>
<rect x="355.08" y="131.00" width="8.66" height="70.80"/>
<rect x="363.74" y="128.00" width="8.66" height="73.80"/>
<rect x="372.40" y="152.00" width="8.66" height="49.80"/>
<rect x="41.50" y="297.40" width="8.66" height="5.00"/>
<rect x="50.16" y="296.00" width="8.66" height="6.40"/>
<rect x="84.80" y="293.20" width="8.66" height="9.20"/>
<rect x="93.46" y="288.40" width="8.66" height="14.00"/>
<rect x="102.12" y="289.00" width="8.66" height="13.40"/>
<rect x="110.78" y="294.40" width="8.66" height="8.00"/>
<rect x="119.44" y="293.20" width="8.66" height="9.20"/>
<rect x="128.10" y="287.40" width="8.66" height="15.00"/>
<rect x="163.65" y="269.40" width="8.66" height="33.00"/>
<rect x="172.31" y="266.40" width="8.66" height="36.00"/>
<rect x="189.63" y="301.40" width="8.66" height="1.00"/>
<rect x="198.29" y="300.40" width="8.66" height="2.00"/>
<rect x="206.95" y="284.40" width="8.66" height="18.00"/>
<rect x="215.61" y="285.40" width="8.66" height="17.00"/>
<rect x="224.27" y="263.40" width="8.66" height="39.00"/>
<rect x="232.93" y="271.40" width="8.66" height="31.00"/>
<rect x="241.59" y="264.40" width="8.66" height="38.00"/>
<rect x="250.25" y="263.00" width="8.66" height="39.40"/>
<rect x="285.80" y="229.40" width="8.66" height="73.00"/>
<rect x="294.46" y="229.00" width="8.66" height="73.40"/>
<rect x="303.12" y="292.00" width="8.66" height="10.40"/>
<rect x="311.78" y="253.80" width="8.66" height="48.60"/>
<rect x="320.44" y="266.20" width="8.66" height="36.20"/>
<rect x="329.10" y="274.40" width="8.66" height="28.00"/>
<rect x="337.76" y="279.60" width="8.66" height="22.80"/>
<rect x="346.42" y="232.60" width="8.66" height="69.80"/>
<rect x="355.08" y="233.40" width="8.66" height="69.00"/>
<rect x="363.74" y="228.40" width="8.66" height="74.00"/>
<rect x="372.40" y="253.00" width="8.66" height="49.40"/>
</g>
<g stroke="#1a1a1a" stroke-width="0.9" fill="none">
<path d="M21.5 4.0V101.40H400.3"/>
<path d="M21.5 105.45V201.80H400.3"/>
<path d="M21.5 206.1V302.40H400.3"/>
</g>
<g font-size="8.4" fill="#000" stroke="#000" stroke-width="0.1" text-anchor="end">
<text transform="translate(17.7 105.20) scale(0.93 1)">0.00</text>
<text transform="translate(17.7 86.78) scale(0.93 1)">0.20</text>
<text transform="translate(17.7 68.36) scale(0.93 1)">0.40</text>
<text transform="translate(17.7 49.94) scale(0.93 1)">0.60</text>
<text transform="translate(17.7 31.52) scale(0.93 1)">0.80</text>
<text transform="translate(17.7 13.10) scale(0.93 1)">1.00</text>
<text transform="translate(17.7 205.60) scale(0.93 1)">0.00</text>
<text transform="translate(17.7 187.32) scale(0.93 1)">0.20</text>
<text transform="translate(17.7 169.04) scale(0.93 1)">0.40</text>
<text transform="translate(17.7 150.76) scale(0.93 1)">0.60</text>
<text transform="translate(17.7 132.48) scale(0.93 1)">0.80</text>
<text transform="translate(17.7 114.20) scale(0.93 1)">1.00</text>
<text transform="translate(17.7 306.20) scale(0.93 1)">0.00</text>
<text transform="translate(17.7 287.94) scale(0.93 1)">0.20</text>
<text transform="translate(17.7 269.68) scale(0.93 1)">0.40</text>
<text transform="translate(17.7 251.42) scale(0.93 1)">0.60</text>
<text transform="translate(17.7 233.16) scale(0.93 1)">0.80</text>
<text transform="translate(17.7 214.90) scale(0.93 1)">1.00</text>
</g>
<g font-size="10.67" fill="#4a4a4a" text-anchor="middle">
<text x="86.2" y="317.4">0.50</text>
<text x="208.4" y="317.4">0.65</text>
<text x="330.4" y="317.4">0.80</text>
</g>
<text transform="translate(211.4 339.3) scale(0.95 1)" font-size="11.7" font-weight="bold" fill="#000" stroke="#000" stroke-width="0.2" text-anchor="middle">Factor loading value</text>
<text transform="translate(405.3 52.70) rotate(90)" font-size="9.4" fill="#4a4a4a" text-anchor="middle">0</text>
<text transform="translate(405.3 153.62) rotate(90)" font-size="9.4" fill="#4a4a4a" text-anchor="middle">0.4</text>
<text transform="translate(405.3 254.25) rotate(90)" font-size="9.4" fill="#4a4a4a" text-anchor="middle">0.8</text>
<text transform="translate(425.5 153) rotate(90) scale(0.935 1)" font-size="11.9" font-weight="bold" fill="#000" stroke="#000" stroke-width="0.2" text-anchor="middle">Interfactor Correlation</text>
<g stroke="#000" stroke-width="1.0" fill="none">
<rect stroke="none" x="442.1" y="6.6" width="8.4" height="8.1" fill="#000" stroke="none"/>
<path d="M445.08 18.4H447.88V21.2H445.08zM442.28 21.2H445.08V24H442.28zM447.88 21.2H450.5V24H447.88zM445.08 24H447.88V26.5H445.08z" fill="#000" stroke="none"/>
<path stroke-width="0.9" d="M442.1 38.1L442.3 38.3M442.1 35.1L445.3 38.3M442.1 32.1L448.3 38.3M443.2 30.2L450.5 37.5M446.2 30.2L450.5 34.5M449.2 30.2L450.5 31.5"/>
<path d="M446.3 53.8V61.9M442.1 57.85H450.5"/>
<path d="M445.8 66.52h1v1h-1zM442.96 67.94h1v1h-1zM448.64 67.94h1v1h-1zM445.8 69.36h1v1h-1zM442.96 70.78h1v1h-1zM448.64 70.78h1v1h-1zM445.8 72.2h1v1h-1z" fill="#444" stroke="none"/>
<path d="M444.3 81.45H448.3M446.3 79.45V83.45M442.8 78.65h1.2M442.8 84.25h1.2M448.6 78.65h1.2M448.6 84.25h1.2"/>
<path stroke-width="0.9" d="M444.8 89.2L442.1 91.9M447.8 89.2L442.1 94.9M450.5 89.5L442.7 97.3M450.5 92.5L445.7 97.3M450.5 95.5L448.7 97.3"/>
<path d="M442.1 103.84H450.5M442.1 106.68H450.5"/>
<path d="M442.1 117.1H450.5"/>
<path d="M446.2 124.6L450.5 128.9M442.1 127.7L445.2 124.6M442.1 126.3L448.5 132.7M442.9 132.7L450.5 125.1M442.1 132.1L442.7 132.7M448.7 132.7L450.5 130.9"/>
</g>
<g font-size="9.3" fill="#000">
<rect x="442.1" y="6.60" width="8.4" height="8.1" fill="none" stroke="#222" stroke-width="0.8"/><text transform="translate(452.7 14.80) scale(0.99 1.03)" stroke="#000" stroke-width="0.08">COV</text>
<rect x="442.1" y="18.40" width="8.4" height="8.1" fill="none" stroke="#222" stroke-width="0.8"/><text transform="translate(452.7 26.60) scale(0.99 1.03)" stroke="#000" stroke-width="0.08">VAR</text>
<rect x="442.1" y="30.20" width="8.4" height="8.1" fill="none" stroke="#222" stroke-width="0.8"/><text transform="translate(452.7 38.40) scale(0.99 1.03)" stroke="#000" stroke-width="0.08">MAP</text>
<rect x="442.1" y="42.00" width="8.4" height="8.1" fill="none" stroke="#222" stroke-width="0.8"/><text transform="translate(452.7 50.20) scale(0.99 1.03)" stroke="#000" stroke-width="0.08">BIC</text>
<rect x="442.1" y="53.80" width="8.4" height="8.1" fill="none" stroke="#222" stroke-width="0.8"/><text transform="translate(452.7 62.00) scale(0.99 1.03)" stroke="#000" stroke-width="0.08">RMSEA</text>
<rect x="442.1" y="65.60" width="8.4" height="8.1" fill="none" stroke="#222" stroke-width="0.8"/><text transform="translate(452.7 73.80) scale(0.99 1.03)" stroke="#000" stroke-width="0.08">GLASSO</text>
<rect x="442.1" y="77.40" width="8.4" height="8.1" fill="none" stroke="#222" stroke-width="0.8"/><text transform="translate(452.7 85.60) scale(0.99 1.03)" stroke="#000" stroke-width="0.08">TMFG</text>
<rect x="442.1" y="89.20" width="8.4" height="8.1" fill="none" stroke="#222" stroke-width="0.8"/><text transform="translate(452.7 97.40) scale(0.99 1.03)" stroke="#000" stroke-width="0.08">PA</text>
<rect x="442.1" y="101.00" width="8.4" height="8.1" fill="none" stroke="#222" stroke-width="0.8"/><text transform="translate(452.7 109.20) scale(0.99 1.03)" stroke="#000" stroke-width="0.08">BAYES INFORMATIVE</text>
<rect x="442.1" y="112.80" width="8.4" height="8.1" fill="none" stroke="#222" stroke-width="0.8"/><text transform="translate(452.7 121.00) scale(0.99 1.03)" stroke="#000" stroke-width="0.08">BAYES NAIVE</text>
<rect x="442.1" y="124.60" width="8.4" height="8.1" fill="none" stroke="#222" stroke-width="0.8"/><text transform="translate(452.7 132.80) scale(0.99 1.03)" stroke="#000" stroke-width="0.08">NEST</text>
</g>
</svg>
</body></html>
